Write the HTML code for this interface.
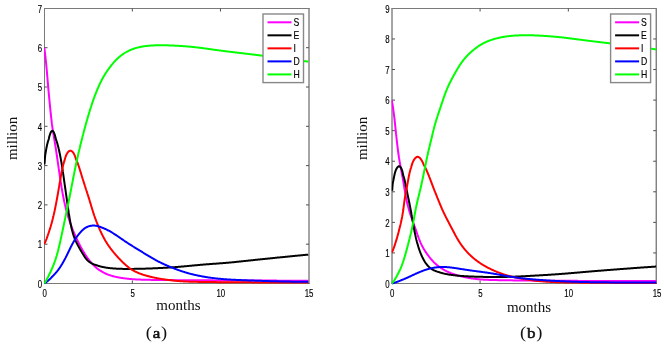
<!DOCTYPE html>
<html><head><meta charset="utf-8"><style>
html,body{margin:0;padding:0;background:#fff;}
svg{display:block;}
.tl text,text.lg{font-family:"Liberation Sans",Arial,sans-serif;font-size:10.2px;fill:#000;stroke:#000;stroke-width:0.15px;}
.lab{font-family:"Liberation Serif","Times New Roman",serif;font-size:15px;fill:#111;}
.cap{font-family:"Liberation Serif","Times New Roman",serif;font-size:16.5px;fill:#111;}
.cap .l{stroke:#111;stroke-width:0.55px;font-size:15.2px;}
</style></head><body>
<svg width="664" height="345" viewBox="0 0 664 345">
<rect width="664" height="345" fill="#fff"/>
<path d="M44.5,8L44.5,284" stroke="#7a7a7a" stroke-width="1" fill="none"/>
<path d="M44,283.5L309.5,283.5" stroke="#7a7a7a" stroke-width="1" fill="none"/>
<path d="M309.0,284L309.0,8" stroke="#4a4a4a" stroke-width="1" fill="none"/>
<path d="M309.5,8.5L44,8.5" stroke="#7a7a7a" stroke-width="1" fill="none"/>
<path d="M132.33,283.5v-3M132.33,8.5v3M220.47,283.5v-3M220.47,8.5v3M44.5,244.20h3M309.0,244.20h-3M44.5,204.90h3M309.0,204.90h-3M44.5,165.60h3M309.0,165.60h-3M44.5,126.30h3M309.0,126.30h-3M44.5,87.00h3M309.0,87.00h-3M44.5,47.70h3M309.0,47.70h-3" stroke="#505050" stroke-width="1" fill="none"/>
<clipPath id="ca"><rect x="44.00" y="7.5" width="264.80" height="277.5"/></clipPath>
<g clip-path="url(#ca)" fill="none" stroke-width="2" stroke-linejoin="round">
<path d="M44.30,47.80 L44.37,48.29 L44.44,48.79 L44.51,49.29 L44.57,49.78 L44.64,50.28 L44.70,50.77 L44.77,51.27 L44.83,51.76 L44.89,52.26 L44.95,52.76 L45.01,53.25 L45.06,53.75 L45.12,54.25 L45.18,54.74 L45.23,55.24 L45.29,55.74 L45.34,56.24 L45.40,56.73 L45.45,57.23 L45.50,57.73 L45.55,58.22 L45.61,58.72 L45.67,59.22 L45.72,59.71 L45.77,60.21 L45.83,60.71 L45.88,61.21 L45.93,61.70 L45.98,62.20 L46.04,62.70 L46.09,63.19 L46.14,63.69 L46.19,64.19 L46.24,64.69 L46.28,65.18 L46.33,65.68 L46.38,66.18 L46.43,66.68 L46.48,67.18 L46.52,67.67 L46.57,68.17 L46.61,68.67 L46.66,69.17 L46.70,69.66 L46.75,70.16 L46.79,70.66 L46.84,71.16 L46.88,71.66 L46.93,72.15 L46.97,72.65 L47.01,73.15 L47.05,73.65 L47.10,74.15 L47.14,74.65 L47.18,75.14 L47.22,75.64 L47.27,76.14 L47.31,76.64 L47.35,77.14 L47.39,77.63 L47.44,78.13 L47.48,78.63 L47.52,79.13 L47.56,79.63 L47.60,80.13 L47.65,80.62 L47.69,81.12 L47.73,81.62 L47.77,82.12 L47.82,82.62 L47.86,83.11 L47.90,83.61 L47.95,84.11 L47.99,84.61 L48.03,85.11 L48.08,85.61 L48.12,86.10 L48.16,86.60 L48.21,87.10 L48.25,87.60 L48.30,88.10 L48.34,88.59 L48.39,89.09 L48.43,89.59 L48.48,90.09 L48.52,90.59 L48.57,91.08 L48.61,91.58 L48.66,92.08 L48.70,92.58 L48.75,93.07 L48.80,93.57 L48.84,94.07 L48.89,94.57 L48.94,95.07 L48.98,95.56 L49.03,96.06 L49.08,96.56 L49.12,97.06 L49.17,97.56 L49.22,98.05 L49.27,98.55 L49.31,99.05 L49.36,99.55 L49.41,100.04 L49.46,100.54 L49.50,101.04 L49.55,101.54 L49.60,102.03 L49.65,102.53 L49.70,103.03 L49.74,103.53 L49.79,104.03 L49.84,104.52 L49.89,105.02 L49.94,105.52 L49.99,106.02 L50.03,106.51 L50.08,107.01 L50.13,107.51 L50.18,108.01 L50.23,108.50 L50.28,109.00 L50.33,109.50 L50.38,110.00 L50.43,110.49 L50.48,110.99 L50.53,111.49 L50.58,111.99 L50.63,112.48 L50.68,112.98 L50.73,113.48 L50.78,113.98 L50.84,114.47 L50.89,114.97 L50.94,115.47 L50.99,115.96 L51.05,116.46 L51.10,116.96 L51.16,117.46 L51.21,117.95 L51.27,118.45 L51.33,118.95 L51.38,119.44 L51.44,119.94 L51.50,120.44 L51.56,120.93 L51.62,121.43 L51.68,121.92 L51.74,122.42 L51.80,122.92 L51.87,123.41 L51.93,123.91 L52.00,124.40 L52.06,124.90 L52.13,125.39 L52.20,125.89 L52.26,126.38 L52.33,126.88 L52.40,127.37 L52.47,127.87 L52.55,128.36 L52.62,128.86 L52.69,129.35 L52.77,129.85 L52.84,130.34 L52.92,130.84 L52.99,131.33 L53.07,131.82 L53.15,132.32 L53.23,132.81 L53.31,133.30 L53.39,133.80 L53.47,134.29 L53.55,134.78 L53.63,135.28 L53.71,135.77 L53.79,136.26 L53.87,136.76 L53.95,137.25 L54.04,137.74 L54.12,138.24 L54.20,138.73 L54.28,139.22 L54.37,139.72 L54.45,140.21 L54.53,140.70 L54.61,141.20 L54.70,141.69 L54.78,142.18 L54.86,142.68 L54.94,143.17 L55.02,143.66 L55.10,144.16 L55.18,144.65 L55.27,145.14 L55.35,145.64 L55.42,146.13 L55.50,146.62 L55.58,147.12 L55.66,147.61 L55.74,148.10 L55.82,148.60 L55.89,149.09 L55.97,149.59 L56.05,150.08 L56.12,150.57 L56.20,151.07 L56.27,151.56 L56.35,152.06 L56.42,152.55 L56.49,153.05 L56.57,153.54 L56.64,154.04 L56.71,154.53 L56.78,155.02 L56.85,155.52 L56.93,156.01 L57.00,156.51 L57.07,157.00 L57.14,157.50 L57.21,157.99 L57.28,158.49 L57.35,158.98 L57.42,159.48 L57.49,159.97 L57.56,160.47 L57.63,160.96 L57.70,161.46 L57.77,161.95 L57.84,162.45 L57.91,162.94 L57.98,163.44 L58.05,163.93 L58.13,164.43 L58.20,164.92 L58.27,165.42 L58.34,165.91 L58.41,166.41 L58.48,166.90 L58.55,167.40 L58.62,167.89 L58.69,168.39 L58.77,168.88 L58.84,169.38 L58.91,169.87 L58.98,170.37 L59.05,170.86 L59.13,171.36 L59.20,171.85 L59.27,172.35 L59.34,172.84 L59.42,173.34 L59.49,173.83 L59.56,174.33 L59.64,174.82 L59.71,175.31 L59.78,175.81 L59.86,176.30 L59.93,176.80 L60.00,177.29 L60.08,177.79 L60.15,178.28 L60.23,178.78 L60.30,179.27 L60.38,179.76 L60.45,180.26 L60.53,180.75 L60.60,181.25 L60.68,181.74 L60.76,182.24 L60.83,182.73 L60.91,183.22 L60.99,183.72 L61.07,184.21 L61.14,184.70 L61.22,185.20 L61.30,185.69 L61.38,186.19 L61.46,186.68 L61.54,187.17 L61.62,187.67 L61.71,188.16 L61.79,188.65 L61.87,189.14 L61.96,189.64 L62.04,190.13 L62.13,190.62 L62.21,191.12 L62.30,191.61 L62.39,192.10 L62.47,192.59 L62.56,193.08 L62.65,193.58 L62.74,194.07 L62.84,194.56 L62.93,195.05 L63.02,195.54 L63.12,196.03 L63.21,196.52 L63.31,197.01 L63.40,197.50 L63.50,197.99 L63.60,198.48 L63.70,198.97 L63.80,199.46 L63.91,199.95 L64.01,200.44 L64.12,200.93 L64.22,201.42 L64.33,201.90 L64.44,202.39 L64.54,202.88 L64.65,203.37 L64.77,203.85 L64.88,204.34 L64.99,204.83 L65.11,205.31 L65.22,205.80 L65.34,206.29 L65.46,206.77 L65.58,207.26 L65.70,207.74 L65.82,208.23 L65.94,208.71 L66.06,209.20 L66.19,209.68 L66.32,210.16 L66.44,210.65 L66.57,211.13 L66.70,211.61 L66.83,212.09 L66.97,212.58 L67.10,213.06 L67.23,213.54 L67.37,214.02 L67.51,214.50 L67.65,214.98 L67.79,215.46 L67.93,215.94 L68.07,216.42 L68.22,216.89 L68.36,217.37 L68.51,217.85 L68.66,218.33 L68.81,218.80 L68.96,219.28 L69.11,219.75 L69.27,220.23 L69.42,220.70 L69.58,221.18 L69.74,221.65 L69.90,222.13 L70.06,222.60 L70.23,223.07 L70.39,223.54 L70.56,224.01 L70.72,224.48 L70.89,224.95 L71.06,225.42 L71.24,225.89 L71.41,226.36 L71.59,226.83 L71.76,227.29 L71.94,227.76 L72.12,228.23 L72.30,228.69 L72.49,229.16 L72.67,229.62 L72.86,230.08 L73.04,230.55 L73.23,231.01 L73.42,231.47 L73.62,231.93 L73.81,232.39 L74.00,232.85 L74.20,233.31 L74.40,233.77 L74.60,234.23 L74.80,234.69 L75.00,235.14 L75.20,235.60 L75.41,236.06 L75.61,236.51 L75.82,236.97 L76.03,237.42 L76.24,237.87 L76.45,238.33 L76.66,238.78 L76.87,239.23 L77.09,239.68 L77.30,240.13 L77.52,240.58 L77.74,241.03 L77.96,241.48 L78.18,241.93 L78.40,242.38 L78.62,242.82 L78.85,243.27 L79.07,243.72 L79.30,244.16 L79.53,244.61 L79.76,245.05 L79.99,245.49 L80.22,245.93 L80.45,246.38 L80.69,246.82 L80.92,247.26 L81.16,247.70 L81.40,248.13 L81.64,248.57 L81.89,249.01 L82.13,249.44 L82.37,249.88 L82.62,250.31 L82.87,250.74 L83.12,251.18 L83.37,251.61 L83.63,252.04 L83.89,252.46 L84.14,252.89 L84.41,253.31 L84.67,253.74 L84.93,254.16 L85.20,254.58 L85.47,255.00 L85.74,255.42 L86.01,255.83 L86.29,256.25 L86.57,256.66 L86.85,257.07 L87.14,257.48 L87.42,257.89 L87.71,258.29 L88.00,258.69 L88.30,259.09 L88.60,259.49 L88.90,259.89 L89.20,260.28 L89.51,260.67 L89.82,261.06 L90.13,261.44 L90.45,261.82 L90.77,262.20 L91.09,262.58 L91.42,262.95 L91.75,263.32 L92.08,263.68 L92.42,264.04 L92.76,264.40 L93.11,264.76 L93.45,265.11 L93.81,265.46 L94.16,265.80 L94.52,266.14 L94.88,266.47 L95.25,266.80 L95.62,267.13 L95.99,267.46 L96.36,267.78 L96.74,268.10 L97.13,268.41 L97.51,268.71 L97.90,269.01 L98.30,269.31 L98.70,269.59 L99.10,269.88 L99.51,270.16 L99.92,270.43 L100.33,270.70 L100.75,270.96 L101.17,271.22 L101.59,271.47 L102.02,271.72 L102.45,271.96 L102.88,272.20 L103.31,272.44 L103.74,272.67 L104.18,272.89 L104.63,273.11 L105.07,273.33 L105.52,273.53 L105.97,273.73 L106.42,273.93 L106.88,274.11 L107.34,274.29 L107.80,274.47 L108.26,274.65 L108.73,274.82 L109.19,274.99 L109.66,275.15 L110.13,275.31 L110.60,275.46 L111.07,275.61 L111.54,275.76 L112.02,275.90 L112.50,276.03 L112.97,276.17 L113.45,276.29 L113.94,276.42 L114.42,276.54 L114.90,276.65 L115.38,276.77 L115.87,276.88 L116.35,276.98 L116.84,277.09 L117.33,277.19 L117.82,277.29 L118.31,277.38 L118.80,277.47 L119.29,277.56 L119.78,277.65 L120.27,277.73 L120.76,277.81 L121.25,277.89 L121.75,277.97 L122.24,278.04 L122.73,278.11 L123.23,278.18 L123.72,278.25 L124.22,278.32 L124.71,278.38 L125.21,278.44 L125.70,278.50 L126.20,278.56 L126.69,278.62 L127.19,278.67 L127.69,278.73 L128.18,278.78 L128.68,278.83 L129.18,278.88 L129.68,278.92 L130.17,278.97 L130.67,279.01 L131.17,279.06 L131.67,279.10 L132.16,279.14 L132.66,279.18 L133.16,279.21 L133.66,279.25 L134.16,279.28 L134.66,279.32 L135.15,279.35 L135.65,279.38 L136.15,279.41 L136.65,279.44 L137.15,279.46 L137.65,279.49 L138.15,279.51 L138.65,279.54 L139.15,279.56 L139.65,279.58 L140.15,279.60 L140.64,279.62 L141.14,279.64 L141.64,279.66 L142.14,279.67 L142.64,279.69 L143.14,279.71 L143.64,279.72 L144.14,279.74 L144.64,279.75 L145.14,279.76 L145.64,279.77 L146.14,279.79 L146.64,279.80 L147.14,279.81 L147.64,279.82 L148.14,279.83 L148.64,279.84 L149.14,279.85 L149.64,279.86 L150.14,279.87 L150.64,279.87 L151.14,279.88 L151.64,279.89 L152.14,279.90 L152.64,279.91 L153.14,279.91 L153.64,279.92 L154.14,279.93 L154.64,279.93 L155.14,279.94 L155.64,279.95 L156.14,279.96 L156.64,279.96 L157.14,279.97 L157.64,279.97 L158.14,279.98 L158.64,279.99 L159.14,279.99 L159.64,280.00 L160.14,280.00 L160.64,280.01 L161.14,280.02 L161.64,280.02 L162.14,280.03 L162.64,280.03 L163.14,280.04 L163.64,280.04 L164.14,280.05 L164.64,280.05 L165.14,280.06 L165.64,280.06 L166.14,280.07 L166.64,280.07 L167.14,280.08 L167.64,280.08 L168.14,280.09 L168.64,280.09 L169.14,280.09 L169.64,280.10 L170.14,280.10 L170.64,280.11 L171.14,280.11 L171.64,280.11 L172.14,280.12 L172.64,280.12 L173.14,280.13 L173.64,280.13 L174.14,280.13 L174.64,280.14 L175.14,280.14 L175.64,280.15 L176.14,280.15 L176.64,280.15 L177.14,280.16 L177.64,280.16 L178.14,280.16 L178.64,280.17 L179.14,280.17 L179.64,280.17 L180.14,280.18 L180.64,280.18 L181.14,280.18 L181.64,280.19 L182.14,280.19 L182.64,280.19 L183.14,280.20 L183.64,280.20 L184.14,280.20 L184.64,280.21 L185.14,280.21 L185.64,280.21 L186.14,280.22 L186.64,280.22 L187.14,280.22 L187.64,280.22 L188.14,280.23 L188.64,280.23 L189.14,280.23 L189.64,280.24 L190.14,280.24 L190.64,280.24 L191.14,280.25 L191.64,280.25 L192.14,280.25 L192.64,280.26 L193.14,280.26 L193.64,280.26 L194.14,280.26 L194.64,280.27 L195.14,280.27 L195.64,280.27 L196.14,280.28 L196.64,280.28 L197.14,280.28 L197.64,280.29 L198.14,280.29 L198.64,280.29 L199.14,280.29 L199.64,280.30 L200.14,280.30 L200.64,280.30 L201.14,280.31 L201.64,280.31 L202.14,280.31 L202.64,280.32 L203.14,280.32 L203.64,280.32 L204.14,280.32 L204.64,280.33 L205.14,280.33 L205.64,280.33 L206.14,280.34 L206.64,280.34 L207.14,280.34 L207.64,280.35 L208.14,280.35 L208.64,280.35 L209.14,280.35 L209.64,280.36 L210.14,280.36 L210.64,280.36 L211.14,280.37 L211.64,280.37 L212.14,280.37 L212.64,280.37 L213.14,280.38 L213.64,280.38 L214.14,280.38 L214.64,280.38 L215.14,280.39 L215.64,280.39 L216.14,280.39 L216.64,280.40 L217.14,280.40 L217.64,280.40 L218.14,280.40 L218.64,280.41 L219.14,280.41 L219.64,280.41 L220.14,280.41 L220.64,280.42 L221.14,280.42 L221.64,280.42 L222.14,280.42 L222.64,280.42 L223.14,280.43 L223.64,280.43 L224.14,280.43 L224.64,280.43 L225.14,280.44 L225.64,280.44 L226.14,280.44 L226.64,280.44 L227.14,280.45 L227.64,280.45 L228.14,280.45 L228.64,280.45 L229.14,280.45 L229.64,280.46 L230.14,280.46 L230.64,280.46 L231.14,280.46 L231.64,280.47 L232.14,280.47 L232.64,280.47 L233.14,280.47 L233.64,280.47 L234.14,280.48 L234.64,280.48 L235.14,280.48 L235.64,280.48 L236.14,280.48 L236.64,280.49 L237.14,280.49 L237.64,280.49 L238.14,280.49 L238.64,280.49 L239.14,280.50 L239.64,280.50 L240.14,280.50 L240.64,280.50 L241.14,280.50 L241.64,280.51 L242.14,280.51 L242.64,280.51 L243.14,280.51 L243.64,280.51 L244.14,280.51 L244.64,280.52 L245.14,280.52 L245.64,280.52 L246.14,280.52 L246.64,280.52 L247.14,280.53 L247.64,280.53 L248.14,280.53 L248.64,280.53 L249.14,280.53 L249.64,280.54 L250.14,280.54 L250.64,280.54 L251.14,280.54 L251.64,280.54 L252.14,280.54 L252.64,280.55 L253.14,280.55 L253.64,280.55 L254.14,280.55 L254.64,280.55 L255.14,280.55 L255.64,280.56 L256.14,280.56 L256.64,280.56 L257.14,280.56 L257.64,280.56 L258.14,280.57 L258.64,280.57 L259.14,280.57 L259.64,280.57 L260.14,280.57 L260.64,280.57 L261.14,280.58 L261.64,280.58 L262.14,280.58 L262.64,280.58 L263.14,280.58 L263.64,280.58 L264.14,280.59 L264.64,280.59 L265.14,280.59 L265.64,280.59 L266.14,280.59 L266.64,280.59 L267.14,280.60 L267.64,280.60 L268.14,280.60 L268.64,280.60 L269.14,280.60 L269.64,280.60 L270.14,280.61 L270.64,280.61 L271.14,280.61 L271.64,280.61 L272.14,280.61 L272.64,280.61 L273.14,280.61 L273.64,280.62 L274.14,280.62 L274.64,280.62 L275.14,280.62 L275.64,280.62 L276.14,280.62 L276.64,280.62 L277.14,280.63 L277.64,280.63 L278.14,280.63 L278.64,280.63 L279.14,280.63 L279.64,280.63 L280.14,280.63 L280.64,280.64 L281.14,280.64 L281.64,280.64 L282.14,280.64 L282.64,280.64 L283.14,280.64 L283.64,280.64 L284.14,280.65 L284.64,280.65 L285.14,280.65 L285.64,280.65 L286.14,280.65 L286.64,280.65 L287.14,280.65 L287.64,280.66 L288.14,280.66 L288.64,280.66 L289.14,280.66 L289.64,280.66 L290.14,280.66 L290.64,280.66 L291.13,280.66 L291.63,280.66 L292.13,280.67 L292.63,280.67 L293.13,280.67 L293.63,280.67 L294.12,280.67 L294.62,280.67 L295.11,280.67 L295.61,280.67 L296.10,280.68 L296.59,280.68 L297.08,280.68 L297.56,280.68 L298.05,280.68 L298.55,280.68 L299.05,280.68 L299.55,280.68 L300.06,280.68 L300.56,280.69 L301.06,280.69 L301.57,280.69 L302.07,280.69 L302.57,280.69 L303.07,280.69 L303.58,280.69 L304.08,280.69 L304.58,280.69 L305.08,280.69 L305.58,280.69 L306.08,280.70 L306.58,280.70 L307.07,280.70 L307.56,280.70 L308.02,280.70 L308.33,280.70" stroke="#ff00ff"/>
<path d="M44.17,164.36 L44.44,163.79 L44.54,163.34 L44.60,162.87 L44.65,162.39 L44.69,161.90 L44.72,161.40 L44.76,160.91 L44.79,160.41 L44.82,159.91 L44.85,159.41 L44.89,158.91 L44.92,158.41 L44.96,157.91 L45.00,157.41 L45.05,156.91 L45.09,156.41 L45.14,155.91 L45.20,155.41 L45.25,154.91 L45.32,154.41 L45.40,153.94 L45.49,153.47 L45.57,153.00 L45.65,152.53 L45.74,152.05 L45.82,151.57 L45.90,151.09 L45.98,150.61 L46.06,150.13 L46.15,149.64 L46.23,149.16 L46.32,148.67 L46.41,148.19 L46.50,147.71 L46.59,147.22 L46.69,146.74 L46.79,146.26 L46.89,145.78 L47.00,145.30 L47.10,144.82 L47.21,144.35 L47.33,143.88 L47.45,143.41 L47.57,142.95 L47.69,142.49 L47.82,142.03 L47.95,141.59 L48.09,141.14 L48.23,140.71 L48.37,140.28 L48.59,139.65 L48.80,138.95 L48.90,138.39 L49.01,137.83 L49.13,137.28 L49.26,136.75 L49.40,136.23 L49.55,135.73 L49.70,135.23 L49.86,134.75 L50.03,134.27 L50.20,133.80 L50.37,133.34 L50.56,132.89 L50.75,132.45 L50.96,132.03 L51.31,131.48 L51.70,131.05 L52.13,130.83 L52.72,130.93 L53.13,131.27 L53.50,131.78 L53.71,132.17 L53.92,132.60 L54.11,133.04 L54.29,133.50 L54.46,133.96 L54.63,134.44 L54.79,134.92 L54.94,135.41 L55.09,135.90 L55.23,136.41 L55.37,136.94 L55.49,137.49 L55.61,138.05 L55.73,138.64 L55.85,139.18 L56.09,139.79 L56.32,140.42 L56.47,140.85 L56.62,141.29 L56.76,141.73 L56.90,142.18 L57.05,142.64 L57.18,143.10 L57.32,143.56 L57.45,144.03 L57.59,144.50 L57.72,144.97 L57.84,145.44 L57.97,145.92 L58.10,146.40 L58.22,146.88 L58.34,147.36 L58.46,147.84 L58.58,148.32 L58.69,148.81 L58.81,149.29 L58.92,149.78 L59.03,150.26 L59.14,150.75 L59.25,151.24 L59.36,151.72 L59.46,152.21 L59.57,152.70 L59.67,153.19 L59.77,153.68 L59.88,154.17 L59.97,154.66 L60.07,155.15 L60.17,155.64 L60.27,156.13 L60.36,156.62 L60.46,157.11 L60.55,157.60 L60.64,158.09 L60.73,158.58 L60.82,159.07 L60.91,159.56 L61.00,160.06 L61.08,160.55 L61.17,161.04 L61.25,161.53 L61.34,162.03 L61.42,162.52 L61.51,163.01 L61.59,163.51 L61.67,164.00 L61.75,164.49 L61.83,164.99 L61.91,165.48 L61.99,165.97 L62.07,166.47 L62.14,166.96 L62.22,167.45 L62.30,167.95 L62.37,168.44 L62.45,168.94 L62.53,169.43 L62.60,169.92 L62.68,170.42 L62.75,170.91 L62.82,171.41 L62.90,171.90 L62.97,172.40 L63.04,172.89 L63.12,173.39 L63.19,173.88 L63.26,174.38 L63.33,174.87 L63.41,175.37 L63.48,175.86 L63.55,176.36 L63.62,176.85 L63.69,177.34 L63.76,177.84 L63.83,178.33 L63.90,178.83 L63.97,179.32 L64.04,179.82 L64.11,180.31 L64.18,180.81 L64.25,181.30 L64.32,181.80 L64.39,182.30 L64.46,182.79 L64.53,183.29 L64.60,183.78 L64.67,184.28 L64.74,184.77 L64.81,185.27 L64.88,185.76 L64.95,186.26 L65.02,186.75 L65.09,187.25 L65.16,187.74 L65.23,188.24 L65.30,188.73 L65.37,189.23 L65.44,189.72 L65.51,190.22 L65.58,190.71 L65.65,191.21 L65.72,191.70 L65.79,192.20 L65.86,192.69 L65.93,193.19 L66.00,193.68 L66.07,194.18 L66.14,194.67 L66.21,195.17 L66.28,195.66 L66.35,196.16 L66.42,196.65 L66.49,197.15 L66.56,197.64 L66.63,198.14 L66.70,198.63 L66.77,199.13 L66.84,199.62 L66.91,200.12 L66.99,200.61 L67.06,201.11 L67.13,201.60 L67.20,202.10 L67.27,202.59 L67.34,203.09 L67.41,203.58 L67.48,204.08 L67.55,204.57 L67.62,205.07 L67.69,205.56 L67.77,206.06 L67.84,206.55 L67.91,207.05 L67.98,207.54 L68.05,208.04 L68.12,208.53 L68.20,209.03 L68.27,209.52 L68.34,210.01 L68.42,210.51 L68.49,211.00 L68.56,211.50 L68.64,211.99 L68.71,212.49 L68.79,212.98 L68.86,213.48 L68.94,213.97 L69.02,214.46 L69.10,214.96 L69.17,215.45 L69.25,215.94 L69.33,216.44 L69.41,216.93 L69.50,217.42 L69.58,217.92 L69.66,218.41 L69.75,218.90 L69.83,219.39 L69.92,219.89 L70.01,220.38 L70.09,220.87 L70.18,221.36 L70.27,221.85 L70.37,222.34 L70.46,222.84 L70.55,223.33 L70.65,223.82 L70.75,224.31 L70.85,224.80 L70.95,225.28 L71.05,225.77 L71.15,226.26 L71.26,226.75 L71.36,227.24 L71.47,227.72 L71.58,228.21 L71.70,228.70 L71.81,229.18 L71.93,229.67 L72.05,230.15 L72.17,230.63 L72.29,231.11 L72.42,231.59 L72.55,232.07 L72.69,232.55 L72.82,233.03 L72.96,233.51 L73.11,233.98 L73.25,234.46 L73.40,234.93 L73.56,235.40 L73.72,235.87 L73.88,236.34 L74.04,236.80 L74.21,237.27 L74.37,237.74 L74.53,238.21 L74.70,238.67 L74.88,239.13 L75.07,239.59 L75.27,240.05 L75.47,240.50 L75.68,240.95 L75.89,241.39 L76.12,241.84 L76.34,242.28 L76.57,242.72 L76.78,243.17 L77.01,243.61 L77.23,244.05 L77.46,244.49 L77.69,244.93 L77.92,245.37 L78.15,245.81 L78.39,246.24 L78.63,246.68 L78.87,247.12 L79.11,247.55 L79.35,247.98 L79.59,248.42 L79.84,248.85 L80.08,249.28 L80.33,249.71 L80.58,250.14 L80.83,250.57 L81.08,251.00 L81.33,251.42 L81.59,251.84 L81.84,252.27 L82.10,252.69 L82.37,253.10 L82.63,253.52 L82.90,253.93 L83.17,254.34 L83.42,254.77 L83.67,255.20 L83.92,255.63 L84.18,256.05 L84.44,256.47 L84.71,256.88 L84.99,257.29 L85.27,257.69 L85.56,258.09 L85.85,258.48 L86.16,258.86 L86.48,259.23 L86.80,259.60 L87.13,259.95 L87.47,260.30 L87.82,260.64 L88.18,260.96 L88.55,261.28 L88.93,261.59 L89.32,261.88 L89.71,262.17 L90.11,262.44 L90.52,262.70 L90.94,262.96 L91.37,263.20 L91.80,263.43 L92.23,263.64 L92.68,263.85 L93.13,264.05 L93.58,264.24 L94.04,264.42 L94.50,264.59 L94.97,264.75 L95.43,264.91 L95.91,265.06 L96.38,265.20 L96.86,265.33 L97.32,265.49 L97.79,265.65 L98.25,265.80 L98.72,265.94 L99.19,266.09 L99.67,266.22 L100.14,266.35 L100.62,266.48 L101.10,266.60 L101.58,266.72 L102.06,266.83 L102.54,266.94 L103.03,267.04 L103.51,267.14 L104.00,267.24 L104.49,267.33 L104.98,267.42 L105.47,267.50 L105.96,267.59 L106.45,267.66 L106.94,267.74 L107.43,267.81 L107.93,267.88 L108.42,267.94 L108.91,268.00 L109.41,268.06 L109.90,268.12 L110.40,268.18 L110.90,268.23 L111.39,268.28 L111.89,268.32 L112.39,268.37 L112.88,268.41 L113.38,268.45 L113.88,268.49 L114.38,268.52 L114.87,268.56 L115.37,268.59 L115.87,268.62 L116.37,268.65 L116.87,268.67 L117.37,268.70 L117.86,268.72 L118.36,268.74 L118.86,268.76 L119.36,268.78 L119.86,268.80 L120.36,268.82 L120.86,268.83 L121.36,268.84 L121.86,268.86 L122.36,268.87 L122.86,268.88 L123.36,268.89 L123.86,268.89 L124.36,268.90 L124.86,268.91 L125.36,268.91 L125.86,268.91 L126.36,268.92 L126.86,268.92 L127.36,268.92 L127.86,268.92 L128.36,268.92 L128.86,268.92 L129.36,268.92 L129.86,268.91 L130.36,268.91 L130.86,268.91 L131.36,268.90 L131.85,268.90 L132.35,268.89 L132.85,268.89 L133.35,268.88 L133.85,268.88 L134.35,268.87 L134.85,268.86 L135.35,268.86 L135.85,268.85 L136.35,268.84 L136.85,268.83 L137.35,268.82 L137.85,268.81 L138.35,268.80 L138.85,268.79 L139.35,268.78 L139.85,268.77 L140.35,268.76 L140.85,268.75 L141.35,268.74 L141.85,268.73 L142.35,268.71 L142.85,268.70 L143.35,268.69 L143.85,268.67 L144.35,268.66 L144.85,268.65 L145.35,268.63 L145.85,268.62 L146.35,268.60 L146.85,268.59 L147.35,268.57 L147.85,268.55 L148.35,268.54 L148.85,268.52 L149.35,268.50 L149.85,268.48 L150.35,268.46 L150.85,268.45 L151.35,268.43 L151.85,268.41 L152.35,268.39 L152.85,268.37 L153.35,268.35 L153.85,268.33 L154.34,268.30 L154.84,268.28 L155.34,268.26 L155.84,268.24 L156.34,268.22 L156.84,268.19 L157.34,268.17 L157.84,268.15 L158.34,268.12 L158.84,268.10 L159.34,268.07 L159.84,268.05 L160.34,268.02 L160.84,268.00 L161.34,267.97 L161.84,267.95 L162.34,267.92 L162.83,267.89 L163.33,267.87 L163.83,267.84 L164.33,267.81 L164.83,267.78 L165.33,267.75 L165.83,267.73 L166.33,267.70 L166.83,267.67 L167.33,267.64 L167.83,267.61 L168.33,267.58 L168.82,267.55 L169.32,267.52 L169.82,267.48 L170.32,267.45 L170.82,267.42 L171.32,267.39 L171.82,267.35 L172.32,267.32 L172.82,267.29 L173.31,267.25 L173.81,267.22 L174.31,267.18 L174.81,267.14 L175.31,267.11 L175.81,267.07 L176.31,267.03 L176.80,266.99 L177.30,266.95 L177.80,266.91 L178.30,266.87 L178.80,266.83 L179.30,266.79 L179.79,266.75 L180.29,266.71 L180.79,266.67 L181.29,266.62 L181.79,266.58 L182.28,266.53 L182.78,266.49 L183.28,266.45 L183.78,266.40 L184.28,266.35 L184.77,266.31 L185.27,266.26 L185.77,266.22 L186.27,266.17 L186.76,266.12 L187.26,266.07 L187.76,266.03 L188.26,265.98 L188.76,265.93 L189.25,265.88 L189.75,265.84 L190.25,265.79 L190.75,265.74 L191.24,265.69 L191.74,265.64 L192.24,265.60 L192.74,265.55 L193.23,265.50 L193.73,265.45 L194.23,265.41 L194.73,265.36 L195.23,265.31 L195.72,265.26 L196.22,265.22 L196.72,265.17 L197.22,265.13 L197.71,265.08 L198.21,265.03 L198.71,264.99 L199.21,264.94 L199.71,264.90 L200.20,264.86 L200.70,264.81 L201.20,264.77 L201.70,264.73 L202.20,264.68 L202.70,264.64 L203.19,264.60 L203.69,264.56 L204.19,264.52 L204.69,264.48 L205.19,264.44 L205.69,264.40 L206.18,264.36 L206.68,264.32 L207.18,264.28 L207.68,264.24 L208.18,264.20 L208.68,264.17 L209.17,264.13 L209.67,264.09 L210.17,264.06 L210.67,264.02 L211.17,263.98 L211.67,263.95 L212.17,263.91 L212.67,263.87 L213.16,263.84 L213.66,263.80 L214.16,263.77 L214.66,263.73 L215.16,263.70 L215.66,263.66 L216.16,263.63 L216.66,263.59 L217.15,263.55 L217.65,263.52 L218.15,263.48 L218.65,263.45 L219.15,263.41 L219.65,263.37 L220.15,263.34 L220.64,263.30 L221.14,263.26 L221.64,263.22 L222.14,263.19 L222.64,263.15 L223.14,263.11 L223.64,263.07 L224.13,263.03 L224.63,262.99 L225.13,262.95 L225.63,262.91 L226.13,262.87 L226.62,262.82 L227.12,262.78 L227.62,262.74 L228.12,262.69 L228.62,262.65 L229.11,262.60 L229.61,262.56 L230.11,262.51 L230.61,262.47 L231.11,262.42 L231.60,262.37 L232.10,262.32 L232.60,262.27 L233.10,262.23 L233.59,262.18 L234.09,262.13 L234.59,262.08 L235.09,262.02 L235.58,261.97 L236.08,261.92 L236.58,261.87 L237.08,261.82 L237.57,261.77 L238.07,261.71 L238.57,261.66 L239.06,261.61 L239.56,261.56 L240.06,261.50 L240.56,261.45 L241.05,261.40 L241.55,261.34 L242.05,261.29 L242.54,261.24 L243.04,261.19 L243.54,261.13 L244.04,261.08 L244.53,261.03 L245.03,260.97 L245.53,260.92 L246.02,260.87 L246.52,260.81 L247.02,260.76 L247.52,260.71 L248.01,260.66 L248.51,260.60 L249.01,260.55 L249.50,260.50 L250.00,260.45 L250.50,260.39 L251.00,260.34 L251.49,260.29 L251.99,260.24 L252.49,260.18 L252.99,260.13 L253.48,260.08 L253.98,260.03 L254.48,259.98 L254.97,259.92 L255.47,259.87 L255.97,259.82 L256.47,259.77 L256.96,259.72 L257.46,259.66 L257.96,259.61 L258.46,259.56 L258.95,259.51 L259.45,259.46 L259.95,259.41 L260.45,259.35 L260.94,259.30 L261.44,259.25 L261.94,259.20 L262.43,259.15 L262.93,259.10 L263.43,259.04 L263.93,258.99 L264.42,258.94 L264.92,258.89 L265.42,258.84 L265.92,258.79 L266.41,258.74 L266.91,258.69 L267.41,258.64 L267.91,258.58 L268.40,258.53 L268.90,258.48 L269.40,258.43 L269.90,258.38 L270.39,258.33 L270.89,258.28 L271.39,258.23 L271.88,258.18 L272.38,258.13 L272.88,258.08 L273.38,258.03 L273.87,257.98 L274.37,257.93 L274.87,257.87 L275.37,257.82 L275.86,257.77 L276.36,257.72 L276.86,257.67 L277.36,257.62 L277.85,257.57 L278.35,257.52 L278.85,257.47 L279.35,257.42 L279.84,257.37 L280.34,257.32 L280.84,257.27 L281.34,257.23 L281.83,257.18 L282.33,257.13 L282.83,257.08 L283.33,257.03 L283.82,256.98 L284.32,256.93 L284.82,256.88 L285.32,256.83 L285.82,256.78 L286.31,256.73 L286.81,256.68 L287.31,256.63 L287.81,256.58 L288.30,256.54 L288.80,256.49 L289.30,256.44 L289.80,256.39 L290.29,256.34 L290.79,256.29 L291.29,256.24 L291.78,256.20 L292.28,256.15 L292.77,256.10 L293.27,256.05 L293.76,256.00 L294.25,255.96 L294.74,255.91 L295.23,255.86 L295.72,255.81 L296.20,255.77 L296.69,255.72 L297.17,255.68 L297.64,255.63 L298.12,255.58 L298.62,255.54 L299.12,255.49 L299.62,255.44 L300.13,255.39 L300.63,255.34 L301.13,255.29 L301.63,255.25 L302.14,255.20 L302.64,255.15 L303.14,255.10 L303.64,255.06 L304.14,255.01 L304.64,254.96 L305.14,254.91 L305.64,254.87 L306.14,254.82 L306.63,254.77 L307.12,254.73 L307.59,254.68 L308.23,254.63 L308.26,254.62" stroke="#000000"/>
<path d="M44.29,243.80 L44.54,243.36 L44.77,242.92 L45.00,242.47 L45.22,242.02 L45.42,241.57 L45.63,241.11 L45.82,240.65 L46.01,240.19 L46.20,239.73 L46.38,239.26 L46.56,238.80 L46.73,238.33 L46.90,237.86 L47.07,237.39 L47.24,236.92 L47.40,236.45 L47.56,235.97 L47.72,235.50 L47.87,235.02 L48.03,234.55 L48.19,234.07 L48.36,233.61 L48.52,233.14 L48.69,232.67 L48.85,232.19 L49.01,231.72 L49.17,231.25 L49.33,230.78 L49.49,230.30 L49.64,229.83 L49.79,229.35 L49.94,228.88 L50.09,228.40 L50.24,227.92 L50.38,227.44 L50.53,226.97 L50.67,226.49 L50.81,226.01 L50.95,225.53 L51.09,225.05 L51.23,224.57 L51.36,224.09 L51.50,223.61 L51.63,223.12 L51.76,222.64 L51.89,222.16 L52.02,221.68 L52.15,221.19 L52.28,220.71 L52.40,220.23 L52.53,219.74 L52.65,219.26 L52.77,218.77 L52.90,218.29 L53.02,217.80 L53.13,217.32 L53.25,216.83 L53.37,216.35 L53.48,215.86 L53.60,215.38 L53.71,214.89 L53.82,214.40 L53.93,213.91 L54.04,213.43 L54.15,212.94 L54.26,212.45 L54.37,211.96 L54.47,211.47 L54.58,210.99 L54.68,210.50 L54.79,210.01 L54.89,209.52 L54.99,209.03 L55.09,208.54 L55.19,208.05 L55.29,207.56 L55.39,207.07 L55.49,206.58 L55.59,206.09 L55.68,205.60 L55.78,205.11 L55.88,204.62 L55.97,204.13 L56.07,203.64 L56.16,203.15 L56.25,202.65 L56.35,202.16 L56.44,201.67 L56.53,201.18 L56.62,200.69 L56.72,200.20 L56.81,199.71 L56.90,199.21 L56.99,198.72 L57.08,198.23 L57.16,197.74 L57.25,197.25 L57.34,196.75 L57.43,196.26 L57.52,195.77 L57.60,195.28 L57.69,194.79 L57.78,194.29 L57.86,193.80 L57.95,193.31 L58.03,192.81 L58.12,192.32 L58.20,191.83 L58.29,191.34 L58.37,190.84 L58.45,190.35 L58.54,189.86 L58.62,189.36 L58.70,188.87 L58.79,188.38 L58.87,187.89 L58.95,187.39 L59.03,186.90 L59.12,186.41 L59.20,185.91 L59.28,185.42 L59.36,184.93 L59.45,184.43 L59.53,183.94 L59.61,183.45 L59.70,182.95 L59.78,182.46 L59.86,181.97 L59.95,181.48 L60.03,180.98 L60.11,180.49 L60.20,180.00 L60.28,179.50 L60.37,179.01 L60.45,178.52 L60.54,178.03 L60.62,177.53 L60.71,177.04 L60.80,176.55 L60.89,176.06 L60.98,175.57 L61.06,175.07 L61.15,174.58 L61.24,174.09 L61.34,173.60 L61.43,173.11 L61.52,172.62 L61.61,172.13 L61.71,171.64 L61.80,171.15 L61.90,170.66 L62.00,170.17 L62.10,169.68 L62.20,169.19 L62.31,168.70 L62.41,168.22 L62.52,167.73 L62.63,167.25 L62.74,166.76 L62.85,166.28 L62.97,165.80 L63.09,165.32 L63.21,164.85 L63.33,164.37 L63.46,163.90 L63.60,163.43 L63.73,162.96 L63.87,162.50 L64.02,162.04 L64.17,161.59 L64.32,161.14 L64.48,160.69 L64.60,160.20 L64.72,159.71 L64.85,159.22 L64.99,158.74 L65.13,158.25 L65.27,157.77 L65.42,157.30 L65.58,156.82 L65.74,156.35 L65.92,155.88 L66.10,155.42 L66.30,154.96 L66.51,154.51 L66.73,154.07 L66.96,153.64 L67.21,153.22 L67.47,152.81 L67.75,152.42 L68.04,152.06 L68.35,151.72 L68.85,151.27 L69.38,150.94 L69.94,150.74 L70.52,150.70 L71.09,150.83 L71.65,151.10 L72.18,151.49 L72.51,151.81 L72.82,152.15 L73.12,152.52 L73.40,152.91 L73.66,153.32 L73.90,153.74 L74.13,154.17 L74.35,154.62 L74.55,155.07 L74.75,155.53 L74.94,156.00 L75.11,156.48 L75.28,156.97 L75.45,157.46 L75.61,157.96 L75.76,158.47 L75.90,158.99 L76.09,159.44 L76.29,159.85 L76.48,160.28 L76.67,160.71 L76.86,161.15 L77.04,161.59 L77.22,162.04 L77.40,162.49 L77.57,162.94 L77.74,163.40 L77.91,163.86 L78.08,164.32 L78.24,164.79 L78.40,165.25 L78.57,165.72 L78.72,166.19 L78.88,166.66 L79.04,167.14 L79.19,167.61 L79.35,168.08 L79.50,168.56 L79.65,169.03 L79.80,169.51 L79.95,169.98 L80.10,170.46 L80.25,170.94 L80.40,171.41 L80.55,171.89 L80.70,172.37 L80.85,172.85 L80.99,173.32 L81.14,173.80 L81.29,174.28 L81.44,174.76 L81.58,175.23 L81.73,175.71 L81.88,176.19 L82.03,176.67 L82.17,177.15 L82.32,177.62 L82.47,178.10 L82.62,178.58 L82.76,179.06 L82.91,179.53 L83.06,180.01 L83.21,180.49 L83.36,180.97 L83.51,181.44 L83.66,181.92 L83.81,182.40 L83.96,182.87 L84.11,183.35 L84.26,183.83 L84.41,184.30 L84.56,184.78 L84.72,185.26 L84.87,185.73 L85.02,186.21 L85.18,186.68 L85.33,187.16 L85.48,187.63 L85.64,188.11 L85.79,188.59 L85.95,189.06 L86.10,189.54 L86.26,190.01 L86.41,190.49 L86.57,190.96 L86.72,191.44 L86.88,191.91 L87.03,192.39 L87.19,192.86 L87.34,193.34 L87.50,193.81 L87.65,194.29 L87.80,194.76 L87.96,195.24 L88.11,195.72 L88.26,196.19 L88.41,196.67 L88.56,197.14 L88.71,197.62 L88.86,198.10 L89.01,198.58 L89.16,199.05 L89.31,199.53 L89.45,200.01 L89.60,200.49 L89.74,200.96 L89.89,201.44 L90.03,201.92 L90.18,202.40 L90.32,202.88 L90.46,203.36 L90.60,203.84 L90.75,204.32 L90.89,204.80 L91.03,205.27 L91.17,205.75 L91.31,206.23 L91.46,206.71 L91.60,207.19 L91.74,207.67 L91.89,208.15 L92.03,208.63 L92.18,209.10 L92.32,209.58 L92.47,210.06 L92.62,210.54 L92.77,211.01 L92.92,211.49 L93.07,211.96 L93.22,212.44 L93.38,212.92 L93.53,213.39 L93.69,213.86 L93.85,214.34 L94.01,214.81 L94.17,215.28 L94.33,215.76 L94.50,216.23 L94.66,216.70 L94.83,217.17 L95.00,217.64 L95.17,218.11 L95.34,218.58 L95.52,219.05 L95.69,219.51 L95.87,219.98 L96.04,220.45 L96.22,220.91 L96.40,221.38 L96.58,221.85 L96.77,222.31 L96.95,222.78 L97.13,223.24 L97.32,223.70 L97.51,224.17 L97.70,224.63 L97.89,225.09 L98.08,225.55 L98.27,226.02 L98.46,226.48 L98.65,226.94 L98.85,227.40 L99.05,227.86 L99.24,228.32 L99.44,228.77 L99.64,229.23 L99.84,229.69 L100.05,230.14 L100.25,230.60 L100.45,231.06 L100.66,231.51 L100.87,231.96 L101.08,232.42 L101.29,232.87 L101.51,233.32 L101.72,233.77 L101.94,234.22 L102.16,234.67 L102.38,235.11 L102.60,235.56 L102.83,236.00 L103.06,236.45 L103.29,236.89 L103.52,237.33 L103.75,237.77 L103.99,238.21 L104.23,238.65 L104.47,239.08 L104.72,239.51 L104.96,239.95 L105.21,240.38 L105.47,240.81 L105.72,241.24 L105.98,241.66 L106.24,242.09 L106.50,242.51 L106.77,242.93 L107.04,243.35 L107.31,243.77 L107.58,244.19 L107.86,244.60 L108.13,245.01 L108.41,245.43 L108.70,245.84 L108.98,246.25 L109.27,246.65 L109.56,247.06 L109.85,247.46 L110.15,247.86 L110.44,248.27 L110.74,248.66 L111.04,249.06 L111.34,249.46 L111.65,249.85 L111.96,250.25 L112.26,250.64 L112.57,251.03 L112.89,251.42 L113.20,251.81 L113.52,252.19 L113.83,252.58 L114.15,252.96 L114.47,253.34 L114.80,253.72 L115.12,254.10 L115.45,254.48 L115.77,254.86 L116.10,255.23 L116.43,255.61 L116.76,255.98 L117.10,256.35 L117.43,256.72 L117.77,257.09 L118.11,257.46 L118.44,257.83 L118.78,258.19 L119.13,258.56 L119.47,258.92 L119.81,259.28 L120.16,259.64 L120.50,260.00 L120.85,260.36 L121.20,260.71 L121.55,261.07 L121.91,261.42 L122.26,261.77 L122.62,262.12 L122.97,262.47 L123.33,262.81 L123.69,263.15 L124.06,263.49 L124.42,263.83 L124.79,264.17 L125.16,264.50 L125.53,264.83 L125.90,265.15 L126.28,265.48 L126.66,265.80 L127.04,266.11 L127.42,266.43 L127.81,266.73 L128.20,267.04 L128.57,267.36 L128.96,267.68 L129.35,267.98 L129.74,268.28 L130.14,268.57 L130.54,268.86 L130.95,269.13 L131.36,269.40 L131.78,269.66 L132.21,269.92 L132.63,270.16 L133.07,270.40 L133.50,270.64 L133.94,270.86 L134.38,271.08 L134.83,271.30 L135.27,271.52 L135.71,271.74 L136.16,271.95 L136.61,272.16 L137.06,272.37 L137.51,272.57 L137.96,272.77 L138.42,272.96 L138.88,273.15 L139.34,273.33 L139.80,273.51 L140.26,273.69 L140.73,273.86 L141.19,274.03 L141.66,274.20 L142.13,274.36 L142.60,274.52 L143.07,274.68 L143.55,274.83 L144.02,274.98 L144.50,275.13 L144.97,275.27 L145.45,275.42 L145.93,275.55 L146.41,275.69 L146.89,275.83 L147.37,275.96 L147.85,276.09 L148.33,276.21 L148.82,276.34 L149.30,276.46 L149.79,276.58 L150.27,276.70 L150.76,276.82 L151.24,276.93 L151.73,277.04 L152.21,277.16 L152.70,277.26 L153.19,277.37 L153.68,277.48 L154.17,277.58 L154.65,277.68 L155.14,277.79 L155.63,277.88 L156.12,277.98 L156.61,278.08 L157.10,278.17 L157.59,278.27 L158.09,278.36 L158.58,278.45 L159.07,278.54 L159.56,278.63 L160.05,278.71 L160.54,278.80 L161.04,278.88 L161.53,278.96 L162.02,279.04 L162.52,279.12 L163.01,279.20 L163.50,279.28 L164.00,279.35 L164.49,279.43 L164.99,279.50 L165.48,279.57 L165.97,279.64 L166.47,279.71 L166.96,279.78 L167.46,279.85 L167.96,279.91 L168.45,279.98 L168.95,280.04 L169.44,280.10 L169.94,280.16 L170.43,280.22 L170.93,280.28 L171.43,280.34 L171.92,280.40 L172.42,280.45 L172.92,280.50 L173.41,280.56 L173.91,280.61 L174.41,280.66 L174.91,280.71 L175.40,280.76 L175.90,280.80 L176.40,280.85 L176.90,280.90 L177.39,280.94 L177.89,280.98 L178.39,281.02 L178.89,281.06 L179.39,281.10 L179.88,281.14 L180.38,281.18 L180.88,281.21 L181.38,281.25 L181.88,281.28 L182.38,281.31 L182.88,281.35 L183.37,281.38 L183.87,281.41 L184.37,281.43 L184.87,281.46 L185.37,281.49 L185.87,281.51 L186.37,281.54 L186.87,281.56 L187.37,281.58 L187.87,281.60 L188.37,281.62 L188.87,281.64 L189.36,281.66 L189.86,281.68 L190.36,281.69 L190.86,281.71 L191.36,281.73 L191.86,281.74 L192.36,281.75 L192.86,281.77 L193.36,281.78 L193.86,281.79 L194.36,281.81 L194.86,281.82 L195.36,281.83 L195.86,281.84 L196.36,281.85 L196.86,281.86 L197.36,281.87 L197.86,281.88 L198.36,281.89 L198.86,281.90 L199.36,281.91 L199.86,281.92 L200.36,281.92 L200.86,281.93 L201.36,281.94 L201.86,281.95 L202.36,281.96 L202.86,281.96 L203.36,281.97 L203.86,281.98 L204.36,281.99 L204.86,281.99 L205.36,282.00 L205.86,282.01 L206.36,282.01 L206.86,282.02 L207.36,282.03 L207.86,282.03 L208.36,282.04 L208.86,282.04 L209.36,282.05 L209.86,282.06 L210.36,282.06 L210.86,282.07 L211.36,282.07 L211.86,282.08 L212.36,282.08 L212.86,282.09 L213.36,282.09 L213.86,282.10 L214.36,282.10 L214.86,282.11 L215.36,282.11 L215.86,282.12 L216.36,282.12 L216.86,282.13 L217.36,282.13 L217.86,282.14 L218.36,282.14 L218.86,282.15 L219.36,282.15 L219.86,282.16 L220.36,282.16 L220.86,282.16 L221.36,282.17 L221.86,282.17 L222.36,282.18 L222.86,282.18 L223.36,282.18 L223.86,282.19 L224.36,282.19 L224.86,282.20 L225.36,282.20 L225.86,282.20 L226.36,282.21 L226.86,282.21 L227.36,282.21 L227.86,282.22 L228.36,282.22 L228.86,282.23 L229.36,282.23 L229.86,282.23 L230.36,282.24 L230.86,282.24 L231.36,282.24 L231.86,282.25 L232.36,282.25 L232.86,282.25 L233.36,282.26 L233.86,282.26 L234.36,282.26 L234.86,282.27 L235.36,282.27 L235.86,282.27 L236.36,282.28 L236.86,282.28 L237.36,282.28 L237.86,282.29 L238.36,282.29 L238.86,282.29 L239.36,282.30 L239.86,282.30 L240.36,282.30 L240.86,282.31 L241.36,282.31 L241.86,282.31 L242.36,282.32 L242.86,282.32 L243.36,282.32 L243.86,282.32 L244.36,282.33 L244.86,282.33 L245.36,282.33 L245.86,282.34 L246.36,282.34 L246.86,282.34 L247.36,282.35 L247.86,282.35 L248.36,282.35 L248.86,282.36 L249.36,282.36 L249.86,282.36 L250.36,282.37 L250.86,282.37 L251.36,282.37 L251.86,282.37 L252.36,282.38 L252.86,282.38 L253.36,282.38 L253.86,282.39 L254.36,282.39 L254.86,282.39 L255.36,282.40 L255.86,282.40 L256.36,282.40 L256.86,282.41 L257.36,282.41 L257.86,282.41 L258.36,282.41 L258.86,282.42 L259.36,282.42 L259.86,282.42 L260.36,282.43 L260.86,282.43 L261.36,282.43 L261.86,282.43 L262.36,282.44 L262.86,282.44 L263.36,282.44 L263.86,282.45 L264.36,282.45 L264.86,282.45 L265.36,282.45 L265.86,282.46 L266.36,282.46 L266.86,282.46 L267.36,282.47 L267.86,282.47 L268.36,282.47 L268.86,282.47 L269.36,282.48 L269.86,282.48 L270.36,282.48 L270.86,282.48 L271.36,282.49 L271.86,282.49 L272.36,282.49 L272.86,282.49 L273.36,282.50 L273.86,282.50 L274.36,282.50 L274.86,282.50 L275.36,282.51 L275.86,282.51 L276.36,282.51 L276.86,282.51 L277.36,282.51 L277.86,282.52 L278.36,282.52 L278.86,282.52 L279.36,282.52 L279.86,282.53 L280.36,282.53 L280.86,282.53 L281.36,282.53 L281.86,282.53 L282.36,282.54 L282.86,282.54 L283.36,282.54 L283.86,282.54 L284.36,282.54 L284.86,282.55 L285.36,282.55 L285.86,282.55 L286.36,282.55 L286.86,282.55 L287.36,282.55 L287.86,282.56 L288.36,282.56 L288.86,282.56 L289.36,282.56 L289.86,282.56 L290.36,282.56 L290.86,282.57 L291.36,282.57 L291.85,282.57 L292.35,282.57 L292.85,282.57 L293.35,282.57 L293.85,282.57 L294.34,282.58 L294.84,282.58 L295.34,282.58 L295.83,282.58 L296.32,282.58 L296.82,282.58 L297.31,282.58 L297.79,282.58 L298.29,282.58 L298.79,282.59 L299.29,282.59 L299.79,282.59 L300.30,282.59 L300.80,282.59 L301.30,282.59 L301.80,282.59 L302.31,282.59 L302.81,282.59 L303.31,282.59 L303.81,282.60 L304.31,282.60 L304.81,282.60 L305.31,282.60 L305.81,282.60 L306.31,282.60 L306.81,282.60 L307.30,282.60 L307.78,282.60 L308.24,282.60 L308.37,282.60" stroke="#ff0000"/>
<path d="M44.30,283.50 L44.72,283.23 L45.14,282.95 L45.55,282.67 L45.95,282.38 L46.35,282.08 L46.75,281.78 L47.14,281.47 L47.53,281.15 L47.91,280.83 L48.29,280.51 L48.67,280.18 L49.04,279.85 L49.41,279.51 L49.77,279.17 L50.13,278.82 L50.49,278.48 L50.84,278.12 L51.19,277.77 L51.53,277.40 L51.87,277.04 L52.21,276.68 L52.57,276.33 L52.92,275.98 L53.27,275.63 L53.61,275.28 L53.96,274.92 L54.30,274.56 L54.63,274.19 L54.97,273.82 L55.30,273.45 L55.62,273.08 L55.95,272.70 L56.27,272.32 L56.58,271.94 L56.90,271.56 L57.21,271.17 L57.51,270.78 L57.82,270.39 L58.12,269.99 L58.41,269.59 L58.71,269.19 L59.00,268.79 L59.29,268.39 L59.57,267.98 L59.85,267.57 L60.13,267.16 L60.40,266.74 L60.67,266.32 L60.94,265.91 L61.21,265.49 L61.47,265.06 L61.73,264.64 L61.99,264.21 L62.25,263.79 L62.50,263.36 L62.75,262.93 L63.00,262.49 L63.25,262.06 L63.49,261.63 L63.73,261.19 L63.97,260.75 L64.21,260.32 L64.45,259.88 L64.68,259.44 L64.91,258.99 L65.15,258.55 L65.38,258.11 L65.60,257.66 L65.83,257.22 L66.06,256.77 L66.28,256.33 L66.50,255.88 L66.73,255.43 L66.95,254.99 L67.17,254.54 L67.39,254.09 L67.61,253.64 L67.83,253.19 L68.05,252.74 L68.26,252.29 L68.48,251.84 L68.70,251.39 L68.92,250.94 L69.13,250.49 L69.35,250.04 L69.57,249.59 L69.79,249.15 L70.01,248.70 L70.23,248.25 L70.45,247.80 L70.67,247.35 L70.89,246.91 L71.11,246.46 L71.34,246.02 L71.57,245.57 L71.80,245.13 L72.03,244.69 L72.26,244.25 L72.49,243.81 L72.73,243.37 L72.97,242.93 L73.21,242.50 L73.45,242.06 L73.70,241.63 L73.95,241.20 L74.20,240.77 L74.46,240.35 L74.72,239.93 L74.98,239.51 L75.25,239.09 L75.52,238.67 L75.79,238.26 L76.07,237.85 L76.35,237.44 L76.64,237.04 L76.92,236.64 L77.22,236.25 L77.51,235.85 L77.82,235.47 L78.12,235.08 L78.43,234.70 L78.74,234.32 L79.05,233.94 L79.36,233.56 L79.67,233.18 L79.99,232.80 L80.31,232.43 L80.64,232.06 L80.97,231.70 L81.30,231.34 L81.64,230.98 L81.99,230.63 L82.34,230.29 L82.69,229.96 L83.06,229.63 L83.43,229.31 L83.81,229.00 L84.19,228.70 L84.58,228.41 L84.98,228.14 L85.39,227.88 L85.81,227.63 L86.23,227.39 L86.66,227.17 L87.10,226.96 L87.54,226.77 L87.99,226.59 L88.44,226.42 L88.90,226.27 L89.36,226.14 L89.83,226.01 L90.30,225.91 L90.77,225.81 L91.25,225.73 L91.72,225.67 L92.20,225.62 L92.69,225.58 L93.17,225.56 L93.65,225.56 L94.14,225.57 L94.62,225.60 L95.10,225.64 L95.58,225.70 L96.07,225.77 L96.55,225.85 L97.02,225.95 L97.50,226.06 L97.98,226.18 L98.45,226.32 L98.92,226.46 L99.38,226.61 L99.85,226.77 L100.31,226.94 L100.77,227.11 L101.23,227.29 L101.69,227.47 L102.15,227.65 L102.60,227.84 L103.06,228.03 L103.51,228.21 L103.97,228.39 L104.42,228.58 L104.87,228.77 L105.32,228.97 L105.77,229.18 L106.22,229.39 L106.66,229.60 L107.11,229.82 L107.55,230.04 L107.99,230.27 L108.42,230.50 L108.86,230.74 L109.30,230.98 L109.73,231.22 L110.16,231.46 L110.59,231.71 L111.02,231.96 L111.45,232.22 L111.88,232.47 L112.30,232.73 L112.73,232.99 L113.15,233.26 L113.57,233.52 L113.99,233.79 L114.41,234.06 L114.83,234.33 L115.25,234.60 L115.67,234.88 L116.08,235.15 L116.50,235.43 L116.91,235.71 L117.33,235.98 L117.74,236.26 L118.16,236.55 L118.57,236.83 L118.98,237.11 L119.39,237.39 L119.80,237.67 L120.22,237.96 L120.63,238.24 L121.04,238.52 L121.45,238.81 L121.86,239.09 L122.27,239.38 L122.68,239.66 L123.10,239.94 L123.51,240.22 L123.92,240.50 L124.33,240.79 L124.75,241.07 L125.16,241.35 L125.58,241.62 L125.99,241.90 L126.41,242.18 L126.82,242.46 L127.24,242.73 L127.66,243.01 L128.08,243.28 L128.50,243.55 L128.92,243.82 L129.34,244.09 L129.76,244.36 L130.18,244.63 L130.60,244.90 L131.02,245.16 L131.45,245.43 L131.87,245.69 L132.29,245.96 L132.72,246.22 L133.14,246.49 L133.57,246.75 L133.99,247.01 L134.42,247.27 L134.84,247.53 L135.27,247.80 L135.70,248.06 L136.12,248.32 L136.55,248.58 L136.98,248.84 L137.40,249.10 L137.83,249.36 L138.25,249.62 L138.68,249.88 L139.11,250.14 L139.53,250.41 L139.96,250.67 L140.38,250.93 L140.81,251.19 L141.24,251.45 L141.66,251.72 L142.09,251.98 L142.51,252.24 L142.94,252.51 L143.36,252.77 L143.79,253.03 L144.21,253.30 L144.64,253.56 L145.06,253.82 L145.49,254.08 L145.91,254.35 L146.34,254.61 L146.76,254.87 L147.19,255.13 L147.62,255.39 L148.04,255.65 L148.47,255.91 L148.90,256.17 L149.32,256.43 L149.75,256.69 L150.18,256.94 L150.61,257.20 L151.04,257.45 L151.47,257.71 L151.90,257.96 L152.34,258.21 L152.77,258.46 L153.20,258.70 L153.64,258.95 L154.07,259.19 L154.51,259.44 L154.95,259.68 L155.38,259.92 L155.82,260.15 L156.26,260.39 L156.70,260.62 L157.15,260.86 L157.59,261.09 L158.03,261.32 L158.48,261.54 L158.92,261.77 L159.37,261.99 L159.81,262.22 L160.26,262.44 L160.71,262.66 L161.16,262.88 L161.61,263.09 L162.06,263.31 L162.51,263.52 L162.96,263.73 L163.42,263.94 L163.87,264.15 L164.33,264.36 L164.78,264.56 L165.24,264.77 L165.69,264.97 L166.15,265.17 L166.61,265.37 L167.07,265.57 L167.52,265.77 L167.98,265.97 L168.44,266.16 L168.90,266.36 L169.36,266.55 L169.83,266.74 L170.29,266.93 L170.75,267.12 L171.21,267.31 L171.68,267.50 L172.14,267.69 L172.60,267.87 L173.07,268.06 L173.53,268.24 L174.00,268.42 L174.46,268.60 L174.93,268.78 L175.40,268.96 L175.87,269.13 L176.33,269.31 L176.80,269.48 L177.27,269.66 L177.74,269.83 L178.21,270.00 L178.68,270.17 L179.15,270.34 L179.62,270.50 L180.09,270.67 L180.56,270.83 L181.04,270.99 L181.51,271.15 L181.98,271.31 L182.46,271.46 L182.93,271.62 L183.41,271.77 L183.88,271.92 L184.36,272.07 L184.84,272.22 L185.32,272.37 L185.79,272.51 L186.27,272.65 L186.75,272.79 L187.23,272.93 L187.71,273.07 L188.19,273.20 L188.67,273.34 L189.15,273.47 L189.64,273.60 L190.12,273.73 L190.60,273.85 L191.09,273.98 L191.57,274.10 L192.05,274.22 L192.54,274.34 L193.02,274.46 L193.51,274.58 L194.00,274.69 L194.48,274.81 L194.97,274.92 L195.46,275.03 L195.94,275.14 L196.43,275.24 L196.92,275.35 L197.41,275.45 L197.90,275.56 L198.39,275.66 L198.88,275.76 L199.37,275.85 L199.86,275.95 L200.35,276.05 L200.84,276.14 L201.33,276.23 L201.82,276.32 L202.31,276.41 L202.80,276.50 L203.29,276.59 L203.79,276.68 L204.28,276.76 L204.77,276.84 L205.26,276.93 L205.76,277.01 L206.25,277.09 L206.74,277.16 L207.24,277.24 L207.73,277.32 L208.23,277.39 L208.72,277.47 L209.22,277.54 L209.71,277.61 L210.20,277.68 L210.70,277.75 L211.19,277.82 L211.69,277.88 L212.19,277.95 L212.68,278.01 L213.18,278.07 L213.67,278.14 L214.17,278.20 L214.66,278.25 L215.16,278.31 L215.66,278.37 L216.15,278.42 L216.65,278.48 L217.15,278.53 L217.64,278.58 L218.14,278.63 L218.64,278.68 L219.14,278.73 L219.63,278.78 L220.13,278.83 L220.63,278.87 L221.13,278.92 L221.63,278.96 L222.12,279.00 L222.62,279.05 L223.12,279.09 L223.62,279.13 L224.12,279.17 L224.61,279.20 L225.11,279.24 L225.61,279.28 L226.11,279.31 L226.61,279.35 L227.11,279.38 L227.61,279.42 L228.10,279.45 L228.60,279.48 L229.10,279.51 L229.60,279.54 L230.10,279.57 L230.60,279.60 L231.10,279.63 L231.60,279.66 L232.10,279.69 L232.60,279.72 L233.10,279.74 L233.59,279.77 L234.09,279.80 L234.59,279.82 L235.09,279.85 L235.59,279.87 L236.09,279.90 L236.59,279.92 L237.09,279.94 L237.59,279.97 L238.09,279.99 L238.59,280.01 L239.09,280.03 L239.59,280.06 L240.09,280.08 L240.59,280.10 L241.09,280.12 L241.59,280.14 L242.09,280.16 L242.58,280.18 L243.08,280.20 L243.58,280.22 L244.08,280.24 L244.58,280.26 L245.08,280.28 L245.58,280.30 L246.08,280.32 L246.58,280.34 L247.08,280.36 L247.58,280.38 L248.08,280.40 L248.58,280.42 L249.08,280.43 L249.58,280.45 L250.08,280.47 L250.58,280.49 L251.08,280.51 L251.58,280.53 L252.08,280.54 L252.58,280.56 L253.08,280.58 L253.58,280.60 L254.08,280.62 L254.58,280.63 L255.08,280.65 L255.58,280.67 L256.08,280.69 L256.57,280.70 L257.07,280.72 L257.57,280.74 L258.07,280.75 L258.57,280.77 L259.07,280.79 L259.57,280.81 L260.07,280.82 L260.57,280.84 L261.07,280.86 L261.57,280.87 L262.07,280.89 L262.57,280.91 L263.07,280.92 L263.57,280.94 L264.07,280.95 L264.57,280.97 L265.07,280.99 L265.57,281.00 L266.07,281.02 L266.57,281.03 L267.07,281.05 L267.57,281.07 L268.07,281.08 L268.57,281.10 L269.07,281.11 L269.57,281.13 L270.07,281.14 L270.57,281.16 L271.07,281.17 L271.57,281.18 L272.07,281.20 L272.57,281.21 L273.07,281.23 L273.57,281.24 L274.07,281.25 L274.57,281.27 L275.07,281.28 L275.57,281.30 L276.07,281.31 L276.57,281.32 L277.07,281.33 L277.56,281.35 L278.06,281.36 L278.56,281.37 L279.06,281.39 L279.56,281.40 L280.06,281.41 L280.56,281.42 L281.06,281.43 L281.56,281.44 L282.06,281.46 L282.56,281.47 L283.06,281.48 L283.56,281.49 L284.06,281.50 L284.56,281.51 L285.06,281.52 L285.56,281.53 L286.06,281.54 L286.56,281.55 L287.06,281.56 L287.56,281.57 L288.06,281.58 L288.56,281.59 L289.06,281.60 L289.56,281.61 L290.06,281.61 L290.56,281.62 L291.06,281.63 L291.56,281.64 L292.06,281.65 L292.56,281.65 L293.06,281.66 L293.56,281.67 L294.06,281.68 L294.55,281.68 L295.05,281.69 L295.55,281.69 L296.04,281.70 L296.54,281.71 L297.04,281.71 L297.53,281.72 L298.02,281.72 L298.52,281.73 L299.02,281.74 L299.52,281.74 L300.03,281.75 L300.53,281.75 L301.03,281.76 L301.53,281.76 L302.03,281.77 L302.53,281.77 L303.03,281.78 L303.53,281.78 L304.03,281.78 L304.54,281.79 L305.04,281.79 L305.54,281.79 L306.04,281.79 L306.53,281.80 L307.03,281.80 L307.53,281.80 L308.01,281.80 L308.42,281.80" stroke="#0000ff"/>
<path d="M44.30,283.50 L44.58,283.08 L44.85,282.66 L45.11,282.24 L45.38,281.82 L45.63,281.39 L45.89,280.96 L46.14,280.52 L46.38,280.09 L46.63,279.65 L46.87,279.21 L47.10,278.77 L47.34,278.33 L47.57,277.89 L47.79,277.44 L48.02,277.00 L48.24,276.55 L48.46,276.10 L48.68,275.65 L48.89,275.20 L49.11,274.75 L49.32,274.30 L49.55,273.85 L49.77,273.41 L49.99,272.96 L50.21,272.51 L50.42,272.06 L50.64,271.61 L50.85,271.16 L51.06,270.71 L51.27,270.25 L51.47,269.80 L51.68,269.34 L51.88,268.89 L52.08,268.43 L52.27,267.97 L52.47,267.51 L52.66,267.05 L52.85,266.59 L53.04,266.13 L53.23,265.66 L53.41,265.20 L53.59,264.74 L53.77,264.27 L53.95,263.81 L54.13,263.34 L54.30,262.87 L54.47,262.40 L54.64,261.93 L54.81,261.46 L54.98,260.99 L55.14,260.52 L55.30,260.05 L55.46,259.57 L55.61,259.10 L55.77,258.63 L55.92,258.15 L56.07,257.67 L56.22,257.20 L56.37,256.72 L56.51,256.24 L56.66,255.77 L56.80,255.29 L56.94,254.81 L57.07,254.33 L57.21,253.85 L57.34,253.37 L57.48,252.88 L57.61,252.40 L57.74,251.92 L57.87,251.44 L57.99,250.95 L58.12,250.47 L58.24,249.99 L58.37,249.50 L58.49,249.02 L58.61,248.53 L58.73,248.05 L58.85,247.56 L58.96,247.08 L59.08,246.59 L59.19,246.10 L59.31,245.62 L59.42,245.13 L59.54,244.64 L59.65,244.16 L59.76,243.67 L59.87,243.18 L59.98,242.69 L60.09,242.21 L60.20,241.72 L60.31,241.23 L60.42,240.74 L60.52,240.25 L60.63,239.77 L60.74,239.28 L60.84,238.79 L60.95,238.30 L61.06,237.81 L61.16,237.32 L61.27,236.83 L61.37,236.35 L61.48,235.86 L61.58,235.37 L61.69,234.88 L61.79,234.39 L61.90,233.90 L62.00,233.41 L62.10,232.92 L62.21,232.43 L62.31,231.95 L62.42,231.46 L62.52,230.97 L62.62,230.48 L62.73,229.99 L62.83,229.50 L62.94,229.01 L63.04,228.52 L63.14,228.03 L63.25,227.54 L63.35,227.05 L63.45,226.56 L63.56,226.08 L63.66,225.59 L63.76,225.10 L63.87,224.61 L63.97,224.12 L64.07,223.63 L64.17,223.14 L64.28,222.65 L64.38,222.16 L64.48,221.67 L64.59,221.18 L64.69,220.69 L64.79,220.20 L64.89,219.72 L65.00,219.23 L65.10,218.74 L65.20,218.25 L65.31,217.76 L65.41,217.27 L65.51,216.78 L65.61,216.29 L65.72,215.80 L65.82,215.31 L65.92,214.82 L66.02,214.33 L66.13,213.84 L66.23,213.35 L66.33,212.86 L66.43,212.37 L66.53,211.88 L66.64,211.40 L66.74,210.91 L66.84,210.42 L66.94,209.93 L67.04,209.44 L67.15,208.95 L67.25,208.46 L67.35,207.97 L67.45,207.48 L67.55,206.99 L67.65,206.50 L67.75,206.01 L67.85,205.52 L67.95,205.03 L68.05,204.54 L68.15,204.05 L68.25,203.56 L68.35,203.07 L68.45,202.58 L68.55,202.09 L68.65,201.60 L68.75,201.11 L68.85,200.62 L68.95,200.13 L69.05,199.64 L69.15,199.15 L69.25,198.66 L69.34,198.17 L69.44,197.68 L69.54,197.19 L69.64,196.70 L69.73,196.21 L69.83,195.72 L69.93,195.23 L70.03,194.74 L70.12,194.25 L70.22,193.76 L70.31,193.27 L70.41,192.77 L70.51,192.28 L70.60,191.79 L70.70,191.30 L70.79,190.81 L70.89,190.32 L70.98,189.83 L71.08,189.34 L71.17,188.85 L71.27,188.36 L71.36,187.87 L71.46,187.37 L71.55,186.88 L71.65,186.39 L71.74,185.90 L71.83,185.41 L71.93,184.92 L72.02,184.43 L72.12,183.94 L72.21,183.45 L72.31,182.96 L72.40,182.46 L72.49,181.97 L72.59,181.48 L72.68,180.99 L72.78,180.50 L72.87,180.01 L72.97,179.52 L73.06,179.03 L73.16,178.54 L73.25,178.05 L73.35,177.56 L73.44,177.06 L73.54,176.57 L73.63,176.08 L73.73,175.59 L73.83,175.10 L73.92,174.61 L74.02,174.12 L74.11,173.63 L74.21,173.14 L74.31,172.65 L74.41,172.16 L74.50,171.67 L74.60,171.18 L74.70,170.69 L74.80,170.20 L74.90,169.71 L75.00,169.22 L75.10,168.73 L75.20,168.24 L75.30,167.75 L75.40,167.26 L75.50,166.77 L75.60,166.28 L75.70,165.79 L75.81,165.30 L75.91,164.81 L76.01,164.32 L76.12,163.83 L76.22,163.34 L76.33,162.86 L76.43,162.37 L76.54,161.88 L76.64,161.39 L76.75,160.90 L76.86,160.41 L76.96,159.92 L77.07,159.44 L77.18,158.95 L77.29,158.46 L77.40,157.97 L77.51,157.48 L77.62,157.00 L77.73,156.51 L77.84,156.02 L77.95,155.53 L78.06,155.05 L78.17,154.56 L78.28,154.07 L78.39,153.58 L78.51,153.10 L78.62,152.61 L78.73,152.12 L78.85,151.64 L78.96,151.15 L79.08,150.66 L79.19,150.18 L79.31,149.69 L79.42,149.20 L79.54,148.72 L79.65,148.23 L79.77,147.74 L79.89,147.26 L80.00,146.77 L80.12,146.29 L80.24,145.80 L80.36,145.31 L80.47,144.83 L80.59,144.34 L80.71,143.86 L80.83,143.37 L80.95,142.89 L81.07,142.40 L81.19,141.91 L81.31,141.43 L81.43,140.94 L81.55,140.46 L81.68,139.97 L81.80,139.49 L81.92,139.00 L82.04,138.52 L82.17,138.04 L82.29,137.55 L82.41,137.07 L82.54,136.58 L82.66,136.10 L82.79,135.61 L82.91,135.13 L83.04,134.65 L83.16,134.16 L83.29,133.68 L83.42,133.20 L83.54,132.71 L83.67,132.23 L83.80,131.74 L83.93,131.26 L84.06,130.78 L84.19,130.30 L84.32,129.81 L84.45,129.33 L84.58,128.85 L84.71,128.36 L84.84,127.88 L84.97,127.40 L85.10,126.92 L85.23,126.44 L85.37,125.95 L85.50,125.47 L85.63,124.99 L85.77,124.51 L85.90,124.03 L86.04,123.54 L86.17,123.06 L86.31,122.58 L86.44,122.10 L86.58,121.62 L86.71,121.14 L86.85,120.66 L86.99,120.18 L87.13,119.70 L87.26,119.22 L87.40,118.74 L87.54,118.26 L87.68,117.78 L87.82,117.30 L87.96,116.82 L88.10,116.34 L88.24,115.86 L88.39,115.38 L88.53,114.90 L88.67,114.42 L88.81,113.94 L88.96,113.46 L89.10,112.98 L89.24,112.50 L89.39,112.02 L89.54,111.55 L89.68,111.07 L89.83,110.59 L89.97,110.11 L90.12,109.63 L90.27,109.16 L90.42,108.68 L90.57,108.20 L90.72,107.73 L90.87,107.25 L91.02,106.77 L91.18,106.30 L91.33,105.82 L91.48,105.35 L91.64,104.87 L91.80,104.40 L91.95,103.92 L92.11,103.45 L92.27,102.97 L92.43,102.50 L92.59,102.03 L92.75,101.56 L92.92,101.08 L93.08,100.61 L93.25,100.14 L93.41,99.67 L93.58,99.20 L93.75,98.73 L93.92,98.26 L94.09,97.79 L94.26,97.32 L94.44,96.85 L94.61,96.38 L94.79,95.92 L94.97,95.45 L95.15,94.98 L95.33,94.52 L95.51,94.05 L95.69,93.59 L95.87,93.12 L96.06,92.66 L96.24,92.19 L96.43,91.73 L96.62,91.27 L96.81,90.81 L97.00,90.34 L97.19,89.88 L97.38,89.42 L97.58,88.96 L97.77,88.50 L97.97,88.04 L98.17,87.58 L98.37,87.13 L98.57,86.67 L98.77,86.21 L98.97,85.76 L99.18,85.30 L99.38,84.85 L99.59,84.39 L99.80,83.94 L100.01,83.49 L100.23,83.04 L100.44,82.59 L100.66,82.14 L100.88,81.70 L101.10,81.25 L101.33,80.81 L101.55,80.36 L101.78,79.92 L102.02,79.48 L102.25,79.04 L102.49,78.60 L102.73,78.17 L102.97,77.73 L103.21,77.30 L103.46,76.87 L103.71,76.44 L103.96,76.01 L104.22,75.58 L104.48,75.16 L104.74,74.73 L105.00,74.31 L105.27,73.89 L105.53,73.47 L105.80,73.05 L106.07,72.63 L106.35,72.22 L106.63,71.80 L106.90,71.39 L107.18,70.98 L107.47,70.57 L107.75,70.16 L108.04,69.75 L108.33,69.35 L108.62,68.94 L108.91,68.54 L109.20,68.14 L109.50,67.74 L109.80,67.34 L110.10,66.94 L110.40,66.55 L110.70,66.15 L111.01,65.76 L111.32,65.37 L111.63,64.98 L111.94,64.59 L112.26,64.21 L112.57,63.82 L112.89,63.44 L113.21,63.06 L113.54,62.69 L113.87,62.32 L114.20,61.94 L114.53,61.58 L114.87,61.21 L115.20,60.85 L115.55,60.49 L115.89,60.13 L116.24,59.78 L116.59,59.43 L116.94,59.08 L117.30,58.74 L117.66,58.40 L118.02,58.07 L118.39,57.73 L118.76,57.41 L119.14,57.08 L119.51,56.76 L119.89,56.45 L120.28,56.13 L120.66,55.83 L121.05,55.52 L121.45,55.22 L121.84,54.93 L122.24,54.64 L122.65,54.36 L123.05,54.07 L123.46,53.80 L123.87,53.53 L124.29,53.26 L124.71,53.00 L125.13,52.74 L125.55,52.49 L125.98,52.24 L126.41,52.00 L126.84,51.76 L127.28,51.53 L127.72,51.30 L128.16,51.08 L128.60,50.86 L129.05,50.65 L129.49,50.44 L129.94,50.24 L130.40,50.04 L130.85,49.84 L131.31,49.66 L131.77,49.47 L132.23,49.29 L132.69,49.12 L133.16,48.95 L133.62,48.78 L134.09,48.62 L134.56,48.47 L135.03,48.32 L135.51,48.17 L135.98,48.03 L136.46,47.89 L136.93,47.76 L137.41,47.63 L137.89,47.51 L138.37,47.39 L138.86,47.27 L139.34,47.16 L139.83,47.06 L140.31,46.95 L140.80,46.85 L141.29,46.76 L141.77,46.67 L142.26,46.58 L142.75,46.50 L143.24,46.42 L143.73,46.34 L144.23,46.27 L144.72,46.20 L145.21,46.13 L145.71,46.07 L146.20,46.00 L146.70,45.95 L147.19,45.89 L147.69,45.84 L148.18,45.79 L148.68,45.75 L149.17,45.70 L149.67,45.66 L150.17,45.62 L150.67,45.59 L151.16,45.55 L151.66,45.52 L152.16,45.49 L152.66,45.46 L153.16,45.44 L153.66,45.41 L154.15,45.39 L154.65,45.37 L155.15,45.35 L155.65,45.33 L156.15,45.32 L156.65,45.30 L157.15,45.29 L157.65,45.28 L158.15,45.27 L158.65,45.26 L159.15,45.26 L159.65,45.25 L160.15,45.25 L160.65,45.25 L161.14,45.25 L161.64,45.25 L162.14,45.25 L162.64,45.26 L163.14,45.26 L163.64,45.27 L164.14,45.28 L164.64,45.28 L165.14,45.29 L165.64,45.30 L166.14,45.32 L166.64,45.33 L167.14,45.34 L167.64,45.36 L168.14,45.37 L168.64,45.39 L169.14,45.41 L169.64,45.43 L170.14,45.45 L170.64,45.47 L171.14,45.49 L171.64,45.51 L172.14,45.53 L172.63,45.55 L173.13,45.57 L173.63,45.60 L174.13,45.62 L174.63,45.65 L175.13,45.67 L175.63,45.70 L176.13,45.72 L176.63,45.75 L177.13,45.78 L177.63,45.81 L178.13,45.84 L178.63,45.86 L179.12,45.89 L179.62,45.92 L180.12,45.95 L180.62,45.99 L181.12,46.02 L181.62,46.05 L182.12,46.08 L182.62,46.12 L183.12,46.15 L183.61,46.18 L184.11,46.22 L184.61,46.26 L185.11,46.29 L185.61,46.33 L186.11,46.37 L186.61,46.41 L187.10,46.45 L187.60,46.49 L188.10,46.53 L188.60,46.57 L189.10,46.62 L189.59,46.66 L190.09,46.70 L190.59,46.75 L191.09,46.80 L191.58,46.85 L192.08,46.89 L192.58,46.94 L193.08,46.99 L193.57,47.04 L194.07,47.10 L194.57,47.15 L195.07,47.20 L195.56,47.26 L196.06,47.31 L196.56,47.37 L197.05,47.43 L197.55,47.49 L198.04,47.55 L198.54,47.60 L199.04,47.67 L199.53,47.73 L200.03,47.79 L200.53,47.85 L201.02,47.91 L201.52,47.98 L202.01,48.04 L202.51,48.11 L203.00,48.17 L203.50,48.24 L203.99,48.31 L204.49,48.37 L204.99,48.44 L205.48,48.51 L205.98,48.58 L206.47,48.65 L206.97,48.72 L207.46,48.78 L207.96,48.85 L208.45,48.92 L208.95,48.99 L209.44,49.06 L209.94,49.13 L210.43,49.20 L210.93,49.27 L211.42,49.34 L211.92,49.41 L212.41,49.48 L212.91,49.55 L213.40,49.62 L213.90,49.69 L214.39,49.76 L214.89,49.82 L215.38,49.89 L215.88,49.96 L216.38,50.03 L216.87,50.10 L217.37,50.16 L217.86,50.23 L218.36,50.30 L218.85,50.36 L219.35,50.43 L219.84,50.50 L220.34,50.56 L220.83,50.63 L221.33,50.69 L221.83,50.76 L222.32,50.82 L222.82,50.88 L223.31,50.95 L223.81,51.01 L224.31,51.07 L224.80,51.14 L225.30,51.20 L225.79,51.26 L226.29,51.32 L226.79,51.39 L227.28,51.45 L227.78,51.51 L228.28,51.57 L228.77,51.63 L229.27,51.69 L229.76,51.75 L230.26,51.81 L230.76,51.87 L231.25,51.93 L231.75,51.99 L232.25,52.05 L232.74,52.11 L233.24,52.17 L233.73,52.23 L234.23,52.29 L234.73,52.35 L235.22,52.41 L235.72,52.47 L236.22,52.53 L236.71,52.59 L237.21,52.65 L237.71,52.71 L238.20,52.76 L238.70,52.82 L239.20,52.88 L239.69,52.94 L240.19,53.00 L240.69,53.06 L241.18,53.12 L241.68,53.18 L242.18,53.23 L242.67,53.29 L243.17,53.35 L243.67,53.41 L244.16,53.47 L244.66,53.53 L245.15,53.59 L245.65,53.65 L246.15,53.71 L246.64,53.76 L247.14,53.82 L247.64,53.88 L248.13,53.94 L248.63,54.00 L249.13,54.06 L249.62,54.12 L250.12,54.18 L250.62,54.24 L251.11,54.30 L251.61,54.36 L252.11,54.42 L252.60,54.48 L253.10,54.54 L253.59,54.60 L254.09,54.66 L254.59,54.72 L255.08,54.78 L255.58,54.84 L256.08,54.90 L256.57,54.96 L257.07,55.02 L257.57,55.08 L258.06,55.14 L258.56,55.20 L259.05,55.27 L259.55,55.33 L260.05,55.39 L260.54,55.45 L261.04,55.51 L261.53,55.58 L262.03,55.64 L262.53,55.70 L263.02,55.77 L263.52,55.83 L264.01,55.89 L264.51,55.96 L265.01,56.02 L265.50,56.09 L266.00,56.15 L266.49,56.22 L266.99,56.28 L267.48,56.35 L267.98,56.41 L268.48,56.48 L268.97,56.54 L269.47,56.61 L269.96,56.68 L270.46,56.74 L270.95,56.81 L271.45,56.88 L271.94,56.94 L272.44,57.01 L272.94,57.08 L273.43,57.14 L273.93,57.21 L274.42,57.28 L274.92,57.35 L275.41,57.42 L275.91,57.48 L276.40,57.55 L276.90,57.62 L277.39,57.69 L277.89,57.76 L278.38,57.83 L278.88,57.89 L279.37,57.96 L279.87,58.03 L280.37,58.10 L280.86,58.17 L281.36,58.24 L281.85,58.31 L282.35,58.37 L282.84,58.44 L283.34,58.51 L283.83,58.58 L284.33,58.65 L284.82,58.71 L285.32,58.78 L285.81,58.85 L286.31,58.92 L286.81,58.98 L287.30,59.05 L287.80,59.12 L288.29,59.18 L288.79,59.25 L289.28,59.32 L289.78,59.38 L290.27,59.45 L290.77,59.51 L291.26,59.58 L291.76,59.64 L292.25,59.70 L292.75,59.77 L293.24,59.83 L293.73,59.89 L294.23,59.96 L294.72,60.02 L295.21,60.08 L295.70,60.14 L296.18,60.20 L296.67,60.26 L297.15,60.32 L297.64,60.38 L298.12,60.44 L298.61,60.50 L299.11,60.56 L299.61,60.62 L300.11,60.69 L300.61,60.75 L301.11,60.81 L301.61,60.87 L302.11,60.93 L302.61,60.99 L303.11,61.04 L303.61,61.10 L304.11,61.16 L304.61,61.21 L305.10,61.26 L305.60,61.32 L306.10,61.37 L306.59,61.42 L307.08,61.47 L307.56,61.51 L308.03,61.56 L308.33,61.58" stroke="#00ff00"/>
</g>
<g class="tl">
<text transform="translate(42.00,287.70) scale(0.77,1)" text-anchor="end">0</text>
<text transform="translate(42.00,248.40) scale(0.77,1)" text-anchor="end">1</text>
<text transform="translate(42.00,209.10) scale(0.77,1)" text-anchor="end">2</text>
<text transform="translate(42.00,169.80) scale(0.77,1)" text-anchor="end">3</text>
<text transform="translate(42.00,130.50) scale(0.77,1)" text-anchor="end">4</text>
<text transform="translate(42.00,91.20) scale(0.77,1)" text-anchor="end">5</text>
<text transform="translate(42.00,51.90) scale(0.77,1)" text-anchor="end">6</text>
<text transform="translate(42.00,12.60) scale(0.77,1)" text-anchor="end">7</text>
<text transform="translate(44.60,296.50) scale(0.77,1)" text-anchor="middle">0</text>
<text transform="translate(132.73,296.50) scale(0.77,1)" text-anchor="middle">5</text>
<text transform="translate(220.87,296.50) scale(0.77,1)" text-anchor="middle">10</text>
<text transform="translate(309.00,296.50) scale(0.77,1)" text-anchor="middle">15</text>
</g>
<rect x="263.0" y="14.0" width="40.5" height="68.6" fill="#fff" stroke="#888888" stroke-width="1.4"/>
<path d="M267.50,22.30h24" stroke="#ff00ff" stroke-width="2"/>
<text class="lg" transform="translate(293.40,26.20) scale(0.85,1)">S</text>
<path d="M267.50,35.33h24" stroke="#000000" stroke-width="2"/>
<text class="lg" transform="translate(293.40,39.23) scale(0.85,1)">E</text>
<path d="M267.50,48.36h24" stroke="#ff0000" stroke-width="2"/>
<text class="lg" transform="translate(293.40,52.26) scale(0.85,1)">I</text>
<path d="M267.50,61.39h24" stroke="#0000ff" stroke-width="2"/>
<text class="lg" transform="translate(293.40,65.29) scale(0.85,1)">D</text>
<path d="M267.50,74.42h24" stroke="#00ff00" stroke-width="2"/>
<text class="lg" transform="translate(293.40,78.32) scale(0.85,1)">H</text>
<path d="M392.0,8L392.0,284" stroke="#4a4a4a" stroke-width="1" fill="none"/>
<path d="M391.5,283.5L656.7,283.5" stroke="#7a7a7a" stroke-width="1" fill="none"/>
<path d="M656.2,284L656.2,8" stroke="#4a4a4a" stroke-width="1" fill="none"/>
<path d="M656.7,8.5L391.5,8.5" stroke="#7a7a7a" stroke-width="1" fill="none"/>
<path d="M480.07,283.5v-3M480.07,8.5v3M568.33,283.5v-3M568.33,8.5v3M392.0,252.93h3M656.2,252.93h-3M392.0,222.37h3M656.2,222.37h-3M392.0,191.80h3M656.2,191.80h-3M392.0,161.23h3M656.2,161.23h-3M392.0,130.67h3M656.2,130.67h-3M392.0,100.10h3M656.2,100.10h-3M392.0,69.53h3M656.2,69.53h-3M392.0,38.97h3M656.2,38.97h-3" stroke="#505050" stroke-width="1" fill="none"/>
<clipPath id="cb"><rect x="391.60" y="7.5" width="265.20" height="277.5"/></clipPath>
<g clip-path="url(#cb)" fill="none" stroke-width="2" stroke-linejoin="round">
<path d="M391.70,100.20 L391.81,100.69 L391.92,101.18 L392.02,101.66 L392.12,102.15 L392.21,102.65 L392.31,103.14 L392.39,103.63 L392.48,104.12 L392.56,104.62 L392.64,105.11 L392.72,105.60 L392.79,106.10 L392.87,106.59 L392.94,107.09 L393.01,107.58 L393.08,108.08 L393.15,108.57 L393.21,109.07 L393.28,109.56 L393.34,110.06 L393.40,110.55 L393.48,111.05 L393.55,111.54 L393.62,112.04 L393.69,112.53 L393.75,113.03 L393.82,113.52 L393.88,114.02 L393.95,114.51 L394.01,115.01 L394.07,115.50 L394.13,116.00 L394.19,116.50 L394.25,116.99 L394.31,117.49 L394.37,117.99 L394.42,118.48 L394.48,118.98 L394.53,119.48 L394.59,119.97 L394.64,120.47 L394.70,120.97 L394.75,121.46 L394.80,121.96 L394.86,122.46 L394.91,122.96 L394.96,123.45 L395.01,123.95 L395.07,124.45 L395.12,124.94 L395.17,125.44 L395.22,125.94 L395.27,126.44 L395.33,126.93 L395.38,127.43 L395.43,127.93 L395.48,128.43 L395.53,128.92 L395.59,129.42 L395.64,129.92 L395.69,130.41 L395.74,130.91 L395.80,131.41 L395.85,131.91 L395.90,132.40 L395.96,132.90 L396.01,133.40 L396.07,133.89 L396.12,134.39 L396.17,134.89 L396.23,135.39 L396.28,135.88 L396.34,136.38 L396.39,136.88 L396.45,137.37 L396.50,137.87 L396.56,138.37 L396.62,138.86 L396.67,139.36 L396.73,139.86 L396.78,140.35 L396.84,140.85 L396.90,141.35 L396.96,141.84 L397.01,142.34 L397.07,142.84 L397.13,143.33 L397.19,143.83 L397.24,144.33 L397.30,144.82 L397.36,145.32 L397.42,145.82 L397.48,146.31 L397.54,146.81 L397.60,147.31 L397.66,147.80 L397.72,148.30 L397.78,148.79 L397.85,149.29 L397.91,149.79 L397.97,150.28 L398.03,150.78 L398.10,151.27 L398.16,151.77 L398.23,152.27 L398.29,152.76 L398.36,153.26 L398.43,153.75 L398.50,154.25 L398.57,154.74 L398.64,155.24 L398.71,155.73 L398.78,156.23 L398.85,156.72 L398.93,157.21 L399.00,157.71 L399.08,158.20 L399.15,158.70 L399.23,159.19 L399.31,159.68 L399.39,160.18 L399.47,160.67 L399.56,161.16 L399.64,161.66 L399.72,162.15 L399.81,162.64 L399.90,163.13 L399.98,163.62 L400.07,164.12 L400.16,164.61 L400.25,165.10 L400.34,165.59 L400.43,166.08 L400.52,166.57 L400.62,167.06 L400.71,167.56 L400.80,168.05 L400.90,168.54 L400.99,169.03 L401.08,169.52 L401.18,170.01 L401.27,170.50 L401.37,170.99 L401.46,171.48 L401.56,171.97 L401.65,172.47 L401.74,172.96 L401.84,173.45 L401.93,173.94 L402.03,174.43 L402.12,174.92 L402.21,175.41 L402.30,175.90 L402.39,176.40 L402.48,176.89 L402.57,177.38 L402.66,177.87 L402.75,178.36 L402.84,178.85 L402.93,179.35 L403.02,179.84 L403.10,180.33 L403.19,180.82 L403.27,181.32 L403.36,181.81 L403.44,182.30 L403.53,182.79 L403.61,183.29 L403.69,183.78 L403.77,184.27 L403.85,184.77 L403.94,185.26 L404.02,185.75 L404.10,186.25 L404.18,186.74 L404.26,187.23 L404.34,187.73 L404.42,188.22 L404.50,188.71 L404.58,189.21 L404.66,189.70 L404.74,190.19 L404.82,190.69 L404.90,191.18 L404.98,191.67 L405.06,192.17 L405.14,192.66 L405.23,193.15 L405.31,193.64 L405.40,194.14 L405.48,194.63 L405.57,195.12 L405.66,195.61 L405.75,196.10 L405.84,196.59 L405.94,197.08 L406.03,197.57 L406.13,198.06 L406.22,198.55 L406.32,199.04 L406.42,199.53 L406.53,200.02 L406.63,200.51 L406.74,201.00 L406.85,201.48 L406.96,201.97 L407.07,202.46 L407.18,202.94 L407.30,203.43 L407.41,203.91 L407.53,204.40 L407.65,204.88 L407.78,205.37 L407.90,205.85 L408.03,206.33 L408.15,206.82 L408.28,207.30 L408.41,207.78 L408.54,208.26 L408.68,208.74 L408.81,209.22 L408.95,209.70 L409.09,210.18 L409.22,210.66 L409.37,211.14 L409.51,211.62 L409.65,212.10 L409.80,212.58 L409.94,213.05 L410.09,213.53 L410.24,214.01 L410.39,214.48 L410.54,214.96 L410.70,215.43 L410.85,215.91 L411.01,216.38 L411.17,216.85 L411.33,217.33 L411.49,217.80 L411.65,218.27 L411.82,218.74 L411.98,219.21 L412.15,219.69 L412.32,220.16 L412.49,220.63 L412.65,221.10 L412.82,221.57 L412.99,222.03 L413.17,222.50 L413.34,222.97 L413.51,223.44 L413.68,223.91 L413.85,224.38 L414.02,224.85 L414.19,225.32 L414.36,225.79 L414.53,226.26 L414.70,226.73 L414.87,227.20 L415.04,227.67 L415.21,228.14 L415.38,228.61 L415.54,229.08 L415.71,229.55 L415.87,230.02 L416.04,230.49 L416.20,230.96 L416.37,231.43 L416.53,231.91 L416.69,232.38 L416.85,232.85 L417.02,233.32 L417.18,233.79 L417.34,234.27 L417.51,234.74 L417.67,235.21 L417.84,235.68 L418.00,236.15 L418.17,236.62 L418.34,237.09 L418.51,237.55 L418.68,238.02 L418.85,238.49 L419.03,238.95 L419.21,239.42 L419.39,239.88 L419.57,240.34 L419.76,240.81 L419.95,241.26 L420.14,241.72 L420.34,242.18 L420.54,242.63 L420.74,243.09 L420.95,243.54 L421.16,243.99 L421.37,244.44 L421.59,244.88 L421.81,245.33 L422.03,245.77 L422.26,246.21 L422.49,246.65 L422.73,247.09 L422.97,247.52 L423.21,247.95 L423.46,248.38 L423.71,248.81 L423.96,249.24 L424.22,249.66 L424.48,250.09 L424.74,250.51 L425.01,250.93 L425.27,251.35 L425.55,251.76 L425.82,252.17 L426.10,252.59 L426.38,253.00 L426.66,253.41 L426.95,253.81 L427.24,254.22 L427.53,254.62 L427.82,255.02 L428.12,255.42 L428.42,255.82 L428.72,256.21 L429.02,256.61 L429.33,257.00 L429.64,257.39 L429.95,257.77 L430.26,258.16 L430.58,258.54 L430.90,258.92 L431.22,259.29 L431.55,259.67 L431.88,260.04 L432.21,260.41 L432.54,260.77 L432.87,261.15 L433.20,261.51 L433.54,261.87 L433.89,262.22 L434.24,262.57 L434.60,262.91 L434.97,263.24 L435.34,263.57 L435.70,263.90 L436.07,264.23 L436.44,264.56 L436.81,264.88 L437.19,265.20 L437.57,265.51 L437.96,265.82 L438.35,266.13 L438.74,266.43 L439.13,266.72 L439.53,267.02 L439.93,267.30 L440.34,267.59 L440.74,267.87 L441.15,268.14 L441.57,268.41 L441.98,268.68 L442.40,268.94 L442.82,269.20 L443.25,269.45 L443.67,269.71 L444.10,269.96 L444.53,270.20 L444.97,270.43 L445.41,270.65 L445.85,270.88 L446.29,271.10 L446.74,271.32 L447.18,271.53 L447.63,271.74 L448.08,271.95 L448.53,272.15 L448.99,272.35 L449.45,272.54 L449.90,272.73 L450.36,272.92 L450.83,273.10 L451.29,273.28 L451.76,273.45 L452.22,273.62 L452.69,273.79 L453.16,273.96 L453.63,274.12 L454.10,274.28 L454.57,274.43 L455.05,274.59 L455.52,274.74 L456.00,274.89 L456.47,275.03 L456.95,275.17 L457.43,275.31 L457.91,275.45 L458.39,275.59 L458.87,275.72 L459.35,275.85 L459.83,275.98 L460.32,276.10 L460.80,276.23 L461.28,276.35 L461.77,276.47 L462.25,276.58 L462.74,276.70 L463.23,276.81 L463.71,276.92 L464.20,277.03 L464.69,277.14 L465.17,277.24 L465.66,277.34 L466.15,277.44 L466.64,277.54 L467.13,277.64 L467.62,277.73 L468.11,277.82 L468.60,277.91 L469.09,278.00 L469.59,278.09 L470.08,278.17 L470.57,278.25 L471.06,278.33 L471.56,278.41 L472.05,278.48 L472.54,278.55 L473.04,278.62 L473.53,278.69 L474.03,278.76 L474.52,278.82 L475.02,278.88 L475.51,278.94 L476.01,279.00 L476.50,279.06 L477.00,279.11 L477.50,279.16 L477.99,279.21 L478.49,279.26 L478.99,279.30 L479.48,279.35 L479.98,279.39 L480.48,279.43 L480.98,279.46 L481.47,279.50 L481.97,279.53 L482.47,279.57 L482.97,279.60 L483.47,279.63 L483.97,279.66 L484.47,279.68 L484.96,279.71 L485.46,279.73 L485.96,279.76 L486.46,279.78 L486.96,279.80 L487.46,279.82 L487.96,279.84 L488.46,279.86 L488.96,279.88 L489.46,279.90 L489.96,279.92 L490.46,279.93 L490.96,279.95 L491.46,279.96 L491.96,279.98 L492.46,279.99 L492.96,280.01 L493.46,280.02 L493.96,280.03 L494.46,280.05 L494.96,280.06 L495.46,280.07 L495.96,280.08 L496.45,280.09 L496.95,280.11 L497.45,280.12 L497.95,280.13 L498.45,280.14 L498.95,280.15 L499.45,280.16 L499.95,280.17 L500.45,280.18 L500.95,280.19 L501.45,280.20 L501.95,280.21 L502.45,280.21 L502.95,280.22 L503.45,280.23 L503.95,280.24 L504.45,280.25 L504.95,280.26 L505.45,280.27 L505.95,280.27 L506.45,280.28 L506.95,280.29 L507.45,280.30 L507.95,280.31 L508.45,280.31 L508.95,280.32 L509.45,280.33 L509.95,280.34 L510.45,280.34 L510.95,280.35 L511.45,280.36 L511.95,280.37 L512.45,280.37 L512.95,280.38 L513.45,280.39 L513.95,280.39 L514.45,280.40 L514.95,280.41 L515.45,280.41 L515.95,280.42 L516.45,280.43 L516.95,280.44 L517.45,280.44 L517.95,280.45 L518.45,280.46 L518.95,280.46 L519.45,280.47 L519.95,280.47 L520.45,280.48 L520.95,280.49 L521.45,280.49 L521.95,280.50 L522.45,280.51 L522.95,280.51 L523.45,280.52 L523.95,280.53 L524.45,280.53 L524.95,280.54 L525.45,280.54 L525.95,280.55 L526.45,280.56 L526.95,280.56 L527.45,280.57 L527.95,280.57 L528.45,280.58 L528.95,280.59 L529.45,280.59 L529.95,280.60 L530.45,280.60 L530.95,280.61 L531.45,280.61 L531.95,280.62 L532.45,280.62 L532.95,280.63 L533.45,280.63 L533.95,280.64 L534.45,280.65 L534.95,280.65 L535.45,280.66 L535.95,280.66 L536.45,280.66 L536.95,280.67 L537.45,280.67 L537.95,280.68 L538.45,280.68 L538.95,280.69 L539.45,280.69 L539.95,280.70 L540.45,280.70 L540.95,280.71 L541.45,280.71 L541.95,280.71 L542.45,280.72 L542.95,280.72 L543.45,280.73 L543.95,280.73 L544.45,280.73 L544.95,280.74 L545.45,280.74 L545.95,280.74 L546.45,280.75 L546.95,280.75 L547.45,280.75 L547.95,280.76 L548.45,280.76 L548.95,280.76 L549.45,280.77 L549.95,280.77 L550.45,280.77 L550.95,280.77 L551.45,280.78 L551.95,280.78 L552.45,280.78 L552.95,280.79 L553.45,280.79 L553.95,280.79 L554.45,280.79 L554.95,280.79 L555.45,280.80 L555.95,280.80 L556.45,280.80 L556.95,280.80 L557.45,280.81 L557.95,280.81 L558.45,280.81 L558.95,280.81 L559.45,280.81 L559.95,280.82 L560.45,280.82 L560.95,280.82 L561.45,280.82 L561.95,280.82 L562.45,280.83 L562.95,280.83 L563.45,280.83 L563.95,280.83 L564.45,280.83 L564.95,280.83 L565.45,280.84 L565.95,280.84 L566.45,280.84 L566.95,280.84 L567.45,280.84 L567.95,280.84 L568.45,280.85 L568.95,280.85 L569.45,280.85 L569.95,280.85 L570.45,280.85 L570.95,280.85 L571.45,280.86 L571.95,280.86 L572.45,280.86 L572.95,280.86 L573.45,280.86 L573.95,280.86 L574.45,280.86 L574.95,280.87 L575.45,280.87 L575.95,280.87 L576.45,280.87 L576.95,280.87 L577.45,280.87 L577.95,280.88 L578.45,280.88 L578.95,280.88 L579.45,280.88 L579.95,280.88 L580.45,280.88 L580.95,280.88 L581.45,280.89 L581.95,280.89 L582.45,280.89 L582.95,280.89 L583.45,280.89 L583.95,280.89 L584.45,280.89 L584.95,280.90 L585.45,280.90 L585.95,280.90 L586.45,280.90 L586.95,280.90 L587.45,280.90 L587.95,280.90 L588.45,280.90 L588.95,280.91 L589.45,280.91 L589.95,280.91 L590.45,280.91 L590.95,280.91 L591.45,280.91 L591.95,280.91 L592.45,280.91 L592.95,280.92 L593.45,280.92 L593.95,280.92 L594.45,280.92 L594.95,280.92 L595.45,280.92 L595.95,280.92 L596.45,280.92 L596.95,280.93 L597.45,280.93 L597.95,280.93 L598.45,280.93 L598.95,280.93 L599.45,280.93 L599.95,280.93 L600.45,280.93 L600.95,280.93 L601.45,280.94 L601.95,280.94 L602.45,280.94 L602.95,280.94 L603.45,280.94 L603.95,280.94 L604.45,280.94 L604.95,280.94 L605.45,280.94 L605.95,280.95 L606.45,280.95 L606.95,280.95 L607.45,280.95 L607.95,280.95 L608.45,280.95 L608.95,280.95 L609.45,280.95 L609.95,280.95 L610.45,280.95 L610.95,280.96 L611.45,280.96 L611.95,280.96 L612.45,280.96 L612.95,280.96 L613.45,280.96 L613.95,280.96 L614.45,280.96 L614.95,280.96 L615.45,280.96 L615.95,280.96 L616.45,280.96 L616.95,280.97 L617.45,280.97 L617.95,280.97 L618.45,280.97 L618.95,280.97 L619.45,280.97 L619.95,280.97 L620.45,280.97 L620.95,280.97 L621.45,280.97 L621.95,280.97 L622.45,280.97 L622.95,280.97 L623.45,280.98 L623.95,280.98 L624.45,280.98 L624.95,280.98 L625.45,280.98 L625.95,280.98 L626.45,280.98 L626.95,280.98 L627.45,280.98 L627.95,280.98 L628.45,280.98 L628.95,280.98 L629.45,280.98 L629.95,280.98 L630.45,280.98 L630.95,280.98 L631.45,280.99 L631.95,280.99 L632.45,280.99 L632.95,280.99 L633.45,280.99 L633.95,280.99 L634.45,280.99 L634.95,280.99 L635.45,280.99 L635.95,280.99 L636.45,280.99 L636.95,280.99 L637.45,280.99 L637.95,280.99 L638.45,280.99 L638.95,280.99 L639.45,280.99 L639.95,280.99 L640.45,280.99 L640.95,280.99 L641.45,280.99 L641.94,280.99 L642.44,280.99 L642.94,280.99 L643.44,281.00 L643.94,281.00 L644.43,281.00 L644.93,281.00 L645.42,281.00 L645.92,281.00 L646.42,281.00 L646.92,281.00 L647.42,281.00 L647.92,281.00 L648.42,281.00 L648.92,281.00 L649.42,281.00 L649.92,281.00 L650.43,281.00 L650.93,281.00 L651.43,281.00 L651.93,281.00 L652.43,281.00 L652.93,281.00 L653.43,281.00 L653.93,281.00 L654.43,281.00 L654.93,281.00 L655.42,281.00 L655.91,281.00 L656.34,281.00" stroke="#ff00ff"/>
<path d="M392.20,190.80 L392.23,190.30 L392.26,189.80 L392.29,189.30 L392.32,188.80 L392.35,188.30 L392.38,187.81 L392.41,187.31 L392.44,186.81 L392.48,186.31 L392.52,185.81 L392.56,185.31 L392.61,184.82 L392.66,184.32 L392.72,183.83 L392.79,183.33 L392.86,182.84 L392.95,182.35 L393.04,181.87 L393.13,181.39 L393.24,180.91 L393.35,180.44 L393.43,179.96 L393.52,179.49 L393.62,179.01 L393.72,178.54 L393.82,178.08 L393.91,177.59 L394.00,177.11 L394.09,176.63 L394.19,176.14 L394.29,175.66 L394.39,175.18 L394.50,174.70 L394.62,174.21 L394.73,173.73 L394.85,173.24 L394.98,172.76 L395.12,172.27 L395.26,171.79 L395.42,171.31 L395.58,170.84 L395.76,170.37 L395.95,169.91 L396.15,169.46 L396.37,169.01 L396.60,168.58 L396.85,168.16 L397.10,167.76 L397.38,167.39 L397.67,167.04 L398.13,166.61 L398.62,166.32 L399.13,166.23 L399.62,166.35 L400.09,166.67 L400.51,167.14 L400.76,167.50 L401.00,167.90 L401.22,168.32 L401.43,168.76 L401.63,169.21 L401.81,169.67 L401.98,170.14 L402.14,170.62 L402.29,171.10 L402.43,171.60 L402.55,172.10 L402.67,172.61 L402.79,173.12 L402.89,173.65 L402.99,174.18 L403.09,174.71 L403.20,175.23 L403.35,175.65 L403.49,176.09 L403.63,176.53 L403.77,176.97 L403.90,177.43 L404.03,177.89 L404.16,178.35 L404.28,178.81 L404.40,179.28 L404.52,179.76 L404.64,180.23 L404.75,180.71 L404.86,181.19 L404.97,181.67 L405.08,182.16 L405.18,182.64 L405.29,183.12 L405.39,183.61 L405.49,184.10 L405.59,184.59 L405.69,185.07 L405.79,185.56 L405.89,186.05 L405.99,186.54 L406.09,187.03 L406.19,187.52 L406.29,188.01 L406.38,188.50 L406.48,188.99 L406.58,189.48 L406.68,189.97 L406.77,190.46 L406.87,190.95 L406.97,191.44 L407.07,191.93 L407.17,192.42 L407.27,192.91 L407.37,193.40 L407.47,193.89 L407.57,194.38 L407.67,194.87 L407.77,195.36 L407.87,195.85 L407.97,196.34 L408.07,196.83 L408.17,197.32 L408.27,197.81 L408.38,198.30 L408.48,198.79 L408.58,199.28 L408.68,199.76 L408.78,200.25 L408.88,200.74 L408.98,201.23 L409.09,201.72 L409.19,202.21 L409.29,202.70 L409.39,203.19 L409.48,203.68 L409.58,204.17 L409.68,204.66 L409.78,205.15 L409.87,205.64 L409.97,206.13 L410.07,206.62 L410.16,207.11 L410.25,207.60 L410.35,208.10 L410.44,208.59 L410.53,209.08 L410.63,209.57 L410.72,210.06 L410.81,210.55 L410.90,211.04 L410.99,211.53 L411.08,212.03 L411.17,212.52 L411.26,213.01 L411.35,213.50 L411.44,213.99 L411.52,214.49 L411.61,214.98 L411.70,215.47 L411.79,215.96 L411.88,216.45 L411.96,216.95 L412.05,217.44 L412.14,217.93 L412.23,218.42 L412.32,218.92 L412.40,219.41 L412.49,219.90 L412.58,220.39 L412.67,220.88 L412.75,221.38 L412.84,221.87 L412.93,222.36 L413.01,222.85 L413.10,223.35 L413.19,223.84 L413.28,224.33 L413.36,224.82 L413.45,225.31 L413.54,225.81 L413.63,226.30 L413.71,226.79 L413.80,227.28 L413.89,227.77 L413.98,228.27 L414.07,228.76 L414.16,229.25 L414.25,229.74 L414.34,230.23 L414.44,230.72 L414.53,231.21 L414.62,231.70 L414.72,232.19 L414.82,232.69 L414.92,233.17 L415.01,233.66 L415.11,234.15 L415.22,234.64 L415.32,235.13 L415.43,235.62 L415.53,236.11 L415.64,236.60 L415.75,237.08 L415.86,237.57 L415.97,238.06 L416.09,238.54 L416.20,239.03 L416.32,239.51 L416.44,240.00 L416.57,240.48 L416.69,240.96 L416.81,241.45 L416.94,241.93 L417.07,242.41 L417.20,242.89 L417.34,243.38 L417.47,243.86 L417.61,244.34 L417.75,244.82 L417.89,245.29 L418.03,245.77 L418.17,246.25 L418.32,246.73 L418.47,247.20 L418.62,247.68 L418.77,248.15 L418.93,248.63 L419.09,249.10 L419.25,249.57 L419.41,250.04 L419.57,250.51 L419.74,250.98 L419.91,251.45 L420.09,251.91 L420.26,252.38 L420.44,252.84 L420.63,253.30 L420.81,253.76 L421.00,254.22 L421.20,254.68 L421.39,255.13 L421.59,255.58 L421.80,256.03 L422.01,256.48 L422.22,256.93 L422.44,257.37 L422.67,257.81 L422.89,258.24 L423.11,258.69 L423.33,259.13 L423.56,259.57 L423.79,260.00 L424.03,260.43 L424.27,260.86 L424.52,261.28 L424.78,261.70 L425.04,262.12 L425.31,262.53 L425.59,262.93 L425.87,263.33 L426.16,263.73 L426.46,264.12 L426.76,264.50 L427.08,264.88 L427.40,265.25 L427.72,265.61 L428.06,265.97 L428.40,266.32 L428.75,266.66 L429.11,266.99 L429.47,267.31 L429.85,267.63 L430.23,267.93 L430.62,268.23 L431.01,268.52 L431.41,268.80 L431.82,269.07 L432.23,269.33 L432.65,269.58 L433.08,269.82 L433.51,270.05 L433.95,270.27 L434.39,270.48 L434.84,270.69 L435.29,270.88 L435.74,271.07 L436.20,271.25 L436.66,271.42 L437.13,271.58 L437.60,271.73 L438.07,271.88 L438.54,272.02 L439.02,272.16 L439.48,272.31 L439.95,272.47 L440.42,272.62 L440.89,272.76 L441.37,272.90 L441.84,273.03 L442.32,273.16 L442.80,273.28 L443.28,273.40 L443.76,273.52 L444.25,273.63 L444.73,273.74 L445.22,273.84 L445.70,273.94 L446.19,274.04 L446.68,274.14 L447.17,274.23 L447.66,274.32 L448.15,274.40 L448.64,274.49 L449.13,274.57 L449.62,274.65 L450.12,274.72 L450.61,274.80 L451.10,274.87 L451.60,274.94 L452.09,275.01 L452.59,275.07 L453.08,275.13 L453.58,275.20 L454.07,275.26 L454.57,275.31 L455.06,275.37 L455.56,275.42 L456.06,275.48 L456.55,275.53 L457.05,275.58 L457.55,275.63 L458.05,275.67 L458.54,275.72 L459.04,275.76 L459.54,275.81 L460.04,275.85 L460.54,275.89 L461.03,275.93 L461.53,275.96 L462.03,276.00 L462.53,276.04 L463.03,276.07 L463.53,276.11 L464.02,276.14 L464.52,276.17 L465.02,276.20 L465.52,276.23 L466.02,276.26 L466.52,276.29 L467.02,276.31 L467.52,276.34 L468.02,276.37 L468.52,276.39 L469.02,276.42 L469.51,276.44 L470.01,276.46 L470.51,276.48 L471.01,276.51 L471.51,276.53 L472.01,276.55 L472.51,276.57 L473.01,276.59 L473.51,276.60 L474.01,276.62 L474.51,276.64 L475.01,276.66 L475.51,276.67 L476.01,276.69 L476.51,276.71 L477.01,276.72 L477.51,276.74 L478.01,276.75 L478.51,276.76 L479.01,276.78 L479.51,276.79 L480.01,276.80 L480.51,276.82 L481.01,276.83 L481.51,276.84 L482.01,276.85 L482.51,276.86 L483.01,276.87 L483.51,276.88 L484.01,276.89 L484.51,276.90 L485.01,276.90 L485.51,276.91 L486.01,276.92 L486.50,276.92 L487.00,276.93 L487.50,276.94 L488.00,276.94 L488.50,276.95 L489.00,276.95 L489.50,276.96 L490.00,276.96 L490.50,276.97 L491.00,276.97 L491.50,276.97 L492.00,276.97 L492.50,276.98 L493.00,276.98 L493.50,276.98 L494.00,276.98 L494.50,276.98 L495.00,276.98 L495.50,276.98 L496.00,276.98 L496.50,276.98 L497.00,276.98 L497.50,276.98 L498.00,276.98 L498.50,276.98 L499.00,276.98 L499.50,276.98 L500.00,276.97 L500.50,276.97 L501.00,276.97 L501.50,276.96 L502.00,276.96 L502.50,276.95 L503.00,276.95 L503.50,276.94 L504.00,276.93 L504.50,276.93 L505.00,276.92 L505.50,276.91 L506.00,276.90 L506.50,276.89 L507.00,276.88 L507.50,276.87 L508.00,276.86 L508.50,276.85 L509.00,276.83 L509.50,276.82 L510.00,276.81 L510.50,276.79 L511.00,276.78 L511.50,276.76 L512.00,276.74 L512.50,276.73 L513.00,276.71 L513.50,276.69 L514.00,276.67 L514.50,276.65 L515.00,276.63 L515.50,276.61 L516.00,276.59 L516.50,276.57 L516.99,276.55 L517.49,276.53 L517.99,276.51 L518.49,276.48 L518.99,276.46 L519.49,276.44 L519.99,276.42 L520.49,276.39 L520.99,276.37 L521.49,276.34 L521.99,276.32 L522.49,276.29 L522.99,276.27 L523.49,276.24 L523.99,276.22 L524.49,276.19 L524.99,276.17 L525.48,276.14 L525.98,276.12 L526.48,276.09 L526.98,276.06 L527.48,276.04 L527.98,276.01 L528.48,275.98 L528.98,275.96 L529.48,275.93 L529.98,275.90 L530.48,275.87 L530.98,275.85 L531.48,275.82 L531.98,275.79 L532.47,275.76 L532.97,275.73 L533.47,275.71 L533.97,275.68 L534.47,275.65 L534.97,275.62 L535.47,275.59 L535.97,275.57 L536.47,275.54 L536.97,275.51 L537.47,275.48 L537.97,275.45 L538.46,275.42 L538.96,275.39 L539.46,275.36 L539.96,275.33 L540.46,275.30 L540.96,275.27 L541.46,275.25 L541.96,275.22 L542.46,275.19 L542.96,275.16 L543.46,275.12 L543.95,275.09 L544.45,275.06 L544.95,275.03 L545.45,275.00 L545.95,274.97 L546.45,274.94 L546.95,274.91 L547.45,274.88 L547.95,274.85 L548.45,274.81 L548.94,274.78 L549.44,274.75 L549.94,274.72 L550.44,274.68 L550.94,274.65 L551.44,274.62 L551.94,274.58 L552.44,274.55 L552.94,274.52 L553.43,274.48 L553.93,274.45 L554.43,274.41 L554.93,274.38 L555.43,274.34 L555.93,274.31 L556.43,274.27 L556.93,274.24 L557.42,274.20 L557.92,274.17 L558.42,274.13 L558.92,274.09 L559.42,274.06 L559.92,274.02 L560.42,273.98 L560.92,273.94 L561.41,273.91 L561.91,273.87 L562.41,273.83 L562.91,273.79 L563.41,273.75 L563.91,273.71 L564.40,273.67 L564.90,273.63 L565.40,273.59 L565.90,273.55 L566.40,273.51 L566.90,273.47 L567.40,273.43 L567.89,273.39 L568.39,273.35 L568.89,273.31 L569.39,273.27 L569.89,273.23 L570.39,273.19 L570.88,273.15 L571.38,273.10 L571.88,273.06 L572.38,273.02 L572.88,272.98 L573.37,272.94 L573.87,272.89 L574.37,272.85 L574.87,272.81 L575.37,272.77 L575.87,272.72 L576.36,272.68 L576.86,272.64 L577.36,272.60 L577.86,272.55 L578.36,272.51 L578.85,272.47 L579.35,272.42 L579.85,272.38 L580.35,272.34 L580.85,272.30 L581.35,272.25 L581.84,272.21 L582.34,272.17 L582.84,272.12 L583.34,272.08 L583.84,272.04 L584.33,271.99 L584.83,271.95 L585.33,271.91 L585.83,271.87 L586.33,271.82 L586.82,271.78 L587.32,271.74 L587.82,271.70 L588.32,271.65 L588.82,271.61 L589.32,271.57 L589.81,271.53 L590.31,271.48 L590.81,271.44 L591.31,271.40 L591.81,271.36 L592.31,271.32 L592.80,271.27 L593.30,271.23 L593.80,271.19 L594.30,271.15 L594.80,271.11 L595.29,271.07 L595.79,271.03 L596.29,270.99 L596.79,270.95 L597.29,270.91 L597.79,270.87 L598.28,270.83 L598.78,270.79 L599.28,270.75 L599.78,270.71 L600.28,270.67 L600.78,270.63 L601.28,270.59 L601.77,270.55 L602.27,270.51 L602.77,270.47 L603.27,270.43 L603.77,270.39 L604.27,270.35 L604.76,270.31 L605.26,270.27 L605.76,270.23 L606.26,270.19 L606.76,270.15 L607.26,270.12 L607.76,270.08 L608.25,270.04 L608.75,270.00 L609.25,269.96 L609.75,269.92 L610.25,269.88 L610.75,269.85 L611.25,269.81 L611.74,269.77 L612.24,269.73 L612.74,269.69 L613.24,269.66 L613.74,269.62 L614.24,269.58 L614.73,269.54 L615.23,269.50 L615.73,269.46 L616.23,269.43 L616.73,269.39 L617.23,269.35 L617.73,269.31 L618.22,269.28 L618.72,269.24 L619.22,269.20 L619.72,269.16 L620.22,269.12 L620.72,269.09 L621.22,269.05 L621.71,269.01 L622.21,268.97 L622.71,268.94 L623.21,268.90 L623.71,268.86 L624.21,268.83 L624.71,268.79 L625.21,268.75 L625.70,268.71 L626.20,268.68 L626.70,268.64 L627.20,268.60 L627.70,268.57 L628.20,268.53 L628.70,268.49 L629.19,268.45 L629.69,268.42 L630.19,268.38 L630.69,268.34 L631.19,268.31 L631.69,268.27 L632.19,268.23 L632.69,268.20 L633.18,268.16 L633.68,268.12 L634.18,268.09 L634.68,268.05 L635.18,268.01 L635.68,267.98 L636.18,267.94 L636.67,267.91 L637.17,267.87 L637.67,267.83 L638.17,267.80 L638.67,267.76 L639.16,267.72 L639.66,267.69 L640.16,267.65 L640.65,267.62 L641.15,267.58 L641.64,267.55 L642.14,267.51 L642.63,267.48 L643.12,267.44 L643.60,267.41 L644.09,267.37 L644.57,267.34 L645.05,267.30 L645.53,267.27 L646.00,267.23 L646.51,267.20 L647.01,267.16 L647.51,267.13 L648.02,267.09 L648.52,267.05 L649.02,267.02 L649.53,266.98 L650.03,266.95 L650.53,266.91 L651.04,266.88 L651.54,266.84 L652.04,266.80 L652.54,266.77 L653.04,266.73 L653.54,266.70 L654.04,266.66 L654.53,266.63 L655.02,266.60 L655.49,266.56 L656.13,266.52 L656.14,266.52" stroke="#000000"/>
<path d="M391.69,252.50 L391.95,252.06 L392.19,251.63 L392.41,251.18 L392.63,250.73 L392.84,250.28 L393.04,249.82 L393.24,249.36 L393.43,248.90 L393.61,248.44 L393.79,247.97 L393.96,247.50 L394.13,247.03 L394.29,246.56 L394.45,246.09 L394.61,245.61 L394.76,245.14 L394.91,244.66 L395.05,244.18 L395.20,243.70 L395.34,243.23 L395.48,242.75 L395.64,242.28 L395.80,241.81 L395.96,241.33 L396.11,240.86 L396.26,240.38 L396.41,239.91 L396.55,239.43 L396.70,238.95 L396.84,238.48 L396.98,238.00 L397.12,237.52 L397.25,237.04 L397.39,236.56 L397.52,236.08 L397.65,235.59 L397.78,235.11 L397.91,234.63 L398.04,234.15 L398.17,233.66 L398.30,233.18 L398.42,232.70 L398.55,232.21 L398.67,231.73 L398.79,231.24 L398.92,230.76 L399.04,230.28 L399.16,229.79 L399.28,229.31 L399.41,228.82 L399.53,228.34 L399.65,227.85 L399.77,227.37 L399.88,226.88 L400.00,226.40 L400.12,225.91 L400.24,225.42 L400.36,224.94 L400.47,224.45 L400.59,223.97 L400.70,223.48 L400.81,222.99 L400.93,222.51 L401.04,222.02 L401.15,221.53 L401.25,221.05 L401.36,220.56 L401.47,220.07 L401.57,219.58 L401.67,219.09 L401.77,218.60 L401.87,218.12 L401.97,217.63 L402.06,217.14 L402.16,216.65 L402.25,216.16 L402.33,215.66 L402.42,215.17 L402.51,214.68 L402.59,214.19 L402.67,213.70 L402.75,213.21 L402.83,212.71 L402.90,212.22 L402.98,211.73 L403.05,211.23 L403.12,210.74 L403.19,210.24 L403.26,209.75 L403.32,209.25 L403.39,208.76 L403.46,208.26 L403.52,207.77 L403.58,207.27 L403.65,206.78 L403.71,206.28 L403.78,205.79 L403.84,205.29 L403.90,204.80 L403.97,204.30 L404.03,203.81 L404.10,203.31 L404.16,202.82 L404.23,202.32 L404.30,201.83 L404.37,201.33 L404.44,200.84 L404.51,200.34 L404.58,199.85 L404.66,199.36 L404.73,198.86 L404.81,198.37 L404.89,197.88 L404.97,197.38 L405.05,196.89 L405.13,196.40 L405.22,195.91 L405.30,195.42 L405.39,194.93 L405.48,194.43 L405.57,193.94 L405.66,193.45 L405.75,192.96 L405.85,192.47 L405.94,191.98 L406.03,191.49 L406.13,191.00 L406.22,190.51 L406.32,190.02 L406.41,189.53 L406.51,189.04 L406.60,188.55 L406.70,188.06 L406.79,187.57 L406.88,187.08 L406.98,186.59 L407.07,186.10 L407.16,185.61 L407.25,185.11 L407.34,184.62 L407.43,184.13 L407.52,183.64 L407.61,183.15 L407.70,182.66 L407.79,182.17 L407.88,181.68 L407.97,181.18 L408.05,180.69 L408.14,180.20 L408.23,179.71 L408.32,179.22 L408.41,178.73 L408.50,178.24 L408.59,177.75 L408.68,177.26 L408.77,176.77 L408.87,176.28 L408.96,175.79 L409.06,175.30 L409.16,174.81 L409.26,174.33 L409.37,173.84 L409.47,173.36 L409.58,172.87 L409.70,172.39 L409.81,171.91 L409.93,171.43 L410.05,170.96 L410.18,170.48 L410.31,170.01 L410.45,169.54 L410.59,169.08 L410.73,168.61 L410.88,168.16 L411.03,167.70 L411.19,167.26 L411.32,166.77 L411.45,166.29 L411.58,165.80 L411.72,165.32 L411.86,164.84 L412.01,164.37 L412.16,163.90 L412.33,163.43 L412.50,162.96 L412.68,162.49 L412.86,162.04 L413.06,161.58 L413.27,161.13 L413.49,160.69 L413.72,160.26 L413.97,159.84 L414.23,159.43 L414.51,159.03 L414.80,158.65 L415.11,158.29 L415.43,157.95 L415.77,157.64 L416.30,157.25 L416.86,156.96 L417.44,156.82 L418.02,156.84 L418.59,157.01 L419.13,157.32 L419.65,157.74 L419.97,158.06 L420.28,158.41 L420.59,158.79 L420.88,159.17 L421.16,159.58 L421.42,159.99 L421.68,160.42 L421.93,160.85 L422.17,161.29 L422.40,161.74 L422.62,162.20 L422.84,162.67 L423.05,163.14 L423.26,163.61 L423.46,164.10 L423.66,164.59 L423.87,165.03 L424.11,165.43 L424.34,165.83 L424.57,166.25 L424.80,166.67 L425.02,167.09 L425.24,167.52 L425.45,167.95 L425.67,168.39 L425.88,168.83 L426.09,169.28 L426.29,169.72 L426.50,170.17 L426.70,170.62 L426.90,171.08 L427.10,171.53 L427.29,171.99 L427.49,172.44 L427.68,172.90 L427.87,173.36 L428.06,173.82 L428.25,174.29 L428.44,174.75 L428.62,175.21 L428.81,175.67 L428.99,176.14 L429.17,176.60 L429.35,177.07 L429.54,177.53 L429.71,178.00 L429.89,178.47 L430.07,178.93 L430.25,179.40 L430.43,179.87 L430.60,180.33 L430.78,180.80 L430.96,181.27 L431.13,181.74 L431.31,182.21 L431.48,182.67 L431.66,183.14 L431.83,183.61 L432.01,184.08 L432.19,184.54 L432.36,185.01 L432.54,185.48 L432.72,185.94 L432.89,186.41 L433.07,186.88 L433.25,187.34 L433.43,187.81 L433.61,188.28 L433.79,188.74 L433.98,189.21 L434.16,189.67 L434.34,190.14 L434.53,190.60 L434.71,191.06 L434.90,191.53 L435.08,191.99 L435.27,192.46 L435.45,192.92 L435.64,193.38 L435.83,193.85 L436.01,194.31 L436.20,194.77 L436.39,195.24 L436.57,195.70 L436.76,196.16 L436.95,196.63 L437.13,197.09 L437.32,197.55 L437.50,198.02 L437.69,198.48 L437.88,198.95 L438.06,199.41 L438.25,199.87 L438.44,200.34 L438.62,200.80 L438.81,201.26 L439.00,201.73 L439.19,202.19 L439.37,202.65 L439.56,203.11 L439.75,203.58 L439.94,204.04 L440.13,204.50 L440.32,204.96 L440.52,205.42 L440.71,205.88 L440.90,206.34 L441.10,206.80 L441.30,207.26 L441.49,207.72 L441.69,208.18 L441.89,208.64 L442.10,209.09 L442.30,209.55 L442.50,210.00 L442.71,210.46 L442.92,210.91 L443.13,211.37 L443.34,211.82 L443.55,212.27 L443.76,212.72 L443.98,213.18 L444.19,213.63 L444.41,214.08 L444.63,214.53 L444.85,214.97 L445.07,215.42 L445.29,215.87 L445.51,216.32 L445.73,216.76 L445.96,217.21 L446.18,217.66 L446.41,218.10 L446.64,218.55 L446.87,218.99 L447.10,219.44 L447.33,219.88 L447.56,220.32 L447.79,220.77 L448.02,221.21 L448.25,221.65 L448.48,222.10 L448.71,222.54 L448.95,222.98 L449.18,223.42 L449.41,223.87 L449.64,224.31 L449.88,224.75 L450.11,225.19 L450.34,225.63 L450.57,226.08 L450.81,226.52 L451.04,226.96 L451.27,227.40 L451.50,227.85 L451.74,228.29 L451.97,228.73 L452.20,229.17 L452.43,229.62 L452.66,230.06 L452.90,230.50 L453.13,230.94 L453.36,231.39 L453.59,231.83 L453.83,232.27 L454.06,232.71 L454.29,233.15 L454.53,233.59 L454.76,234.03 L455.00,234.47 L455.24,234.91 L455.47,235.35 L455.71,235.79 L455.95,236.23 L456.20,236.66 L456.44,237.10 L456.69,237.53 L456.93,237.97 L457.18,238.40 L457.43,238.83 L457.68,239.26 L457.94,239.69 L458.20,240.11 L458.46,240.54 L458.72,240.96 L458.98,241.39 L459.25,241.81 L459.52,242.23 L459.79,242.65 L460.06,243.06 L460.34,243.48 L460.62,243.89 L460.90,244.30 L461.18,244.71 L461.47,245.11 L461.76,245.52 L462.05,245.92 L462.35,246.32 L462.64,246.72 L462.95,247.12 L463.25,247.51 L463.55,247.90 L463.86,248.29 L464.18,248.68 L464.49,249.06 L464.81,249.45 L465.13,249.83 L465.45,250.20 L465.78,250.58 L466.11,250.95 L466.44,251.32 L466.77,251.69 L467.11,252.06 L467.45,252.42 L467.79,252.78 L468.14,253.14 L468.48,253.50 L468.83,253.85 L469.19,254.20 L469.54,254.55 L469.90,254.90 L470.26,255.24 L470.62,255.58 L470.98,255.92 L471.35,256.26 L471.72,256.59 L472.09,256.92 L472.46,257.25 L472.84,257.58 L473.22,257.90 L473.60,258.22 L473.98,258.54 L474.37,258.85 L474.75,259.17 L475.14,259.48 L475.53,259.78 L475.93,260.09 L476.32,260.39 L476.72,260.69 L477.12,260.99 L477.52,261.28 L477.92,261.57 L478.33,261.86 L478.74,262.15 L479.14,262.43 L479.56,262.71 L479.97,262.99 L480.38,263.26 L480.80,263.54 L481.22,263.80 L481.64,264.07 L482.06,264.34 L482.49,264.60 L482.91,264.86 L483.34,265.11 L483.77,265.37 L484.20,265.62 L484.63,265.87 L485.06,266.12 L485.49,266.36 L485.93,266.61 L486.37,266.85 L486.80,267.08 L487.24,267.32 L487.68,267.55 L488.13,267.79 L488.57,268.02 L489.01,268.24 L489.46,268.47 L489.90,268.69 L490.35,268.91 L490.80,269.13 L491.25,269.35 L491.70,269.56 L492.15,269.77 L492.60,269.98 L493.06,270.19 L493.51,270.39 L493.97,270.60 L494.43,270.80 L494.88,271.00 L495.34,271.19 L495.80,271.39 L496.26,271.58 L496.72,271.77 L497.18,271.96 L497.65,272.14 L498.11,272.32 L498.58,272.51 L499.04,272.68 L499.51,272.86 L499.98,273.03 L500.45,273.21 L500.91,273.37 L501.38,273.54 L501.86,273.71 L502.33,273.87 L502.80,274.03 L503.27,274.19 L503.75,274.34 L504.22,274.50 L504.70,274.65 L505.17,274.80 L505.65,274.94 L506.13,275.09 L506.61,275.23 L507.08,275.37 L507.56,275.51 L508.04,275.64 L508.52,275.78 L509.01,275.91 L509.49,276.04 L509.97,276.17 L510.45,276.29 L510.94,276.41 L511.42,276.54 L511.91,276.65 L512.39,276.77 L512.88,276.89 L513.36,277.00 L513.85,277.11 L514.34,277.22 L514.83,277.33 L515.31,277.43 L515.80,277.54 L516.29,277.64 L516.78,277.74 L517.27,277.84 L517.76,277.93 L518.25,278.03 L518.74,278.12 L519.23,278.21 L519.72,278.31 L520.21,278.40 L520.71,278.48 L521.20,278.57 L521.69,278.66 L522.18,278.74 L522.67,278.82 L523.17,278.91 L523.66,278.99 L524.15,279.07 L524.65,279.15 L525.14,279.23 L525.63,279.30 L526.13,279.38 L526.62,279.46 L527.12,279.53 L527.61,279.61 L528.11,279.68 L528.60,279.75 L529.09,279.82 L529.59,279.89 L530.08,279.96 L530.58,280.03 L531.07,280.10 L531.57,280.16 L532.07,280.23 L532.56,280.30 L533.06,280.36 L533.55,280.42 L534.05,280.48 L534.54,280.55 L535.04,280.61 L535.54,280.66 L536.03,280.72 L536.53,280.78 L537.03,280.84 L537.52,280.89 L538.02,280.94 L538.52,281.00 L539.01,281.05 L539.51,281.10 L540.01,281.15 L540.51,281.19 L541.00,281.24 L541.50,281.29 L542.00,281.33 L542.50,281.37 L542.99,281.42 L543.49,281.46 L543.99,281.50 L544.49,281.54 L544.99,281.57 L545.49,281.61 L545.98,281.65 L546.48,281.68 L546.98,281.72 L547.48,281.75 L547.98,281.78 L548.48,281.81 L548.98,281.84 L549.48,281.87 L549.98,281.90 L550.47,281.92 L550.97,281.95 L551.47,281.97 L551.97,282.00 L552.47,282.02 L552.97,282.04 L553.47,282.06 L553.97,282.08 L554.47,282.10 L554.97,282.12 L555.47,282.14 L555.97,282.16 L556.47,282.18 L556.97,282.19 L557.47,282.21 L557.97,282.23 L558.47,282.24 L558.97,282.25 L559.47,282.27 L559.96,282.28 L560.46,282.30 L560.96,282.31 L561.46,282.32 L561.96,282.33 L562.46,282.34 L562.96,282.35 L563.46,282.37 L563.96,282.38 L564.46,282.39 L564.96,282.40 L565.46,282.41 L565.96,282.42 L566.46,282.43 L566.96,282.43 L567.46,282.44 L567.96,282.45 L568.46,282.46 L568.96,282.47 L569.46,282.48 L569.96,282.49 L570.46,282.50 L570.96,282.50 L571.46,282.51 L571.96,282.52 L572.46,282.53 L572.96,282.53 L573.46,282.54 L573.96,282.55 L574.46,282.56 L574.96,282.56 L575.46,282.57 L575.96,282.58 L576.46,282.58 L576.96,282.59 L577.46,282.60 L577.96,282.60 L578.46,282.61 L578.96,282.61 L579.46,282.62 L579.96,282.63 L580.46,282.63 L580.96,282.64 L581.46,282.64 L581.96,282.65 L582.46,282.65 L582.96,282.66 L583.46,282.66 L583.96,282.67 L584.46,282.67 L584.96,282.68 L585.46,282.68 L585.96,282.69 L586.46,282.69 L586.96,282.70 L587.46,282.70 L587.96,282.71 L588.46,282.71 L588.96,282.72 L589.46,282.72 L589.96,282.72 L590.46,282.73 L590.96,282.73 L591.46,282.74 L591.96,282.74 L592.46,282.74 L592.96,282.75 L593.46,282.75 L593.96,282.76 L594.46,282.76 L594.96,282.76 L595.46,282.77 L595.96,282.77 L596.46,282.77 L596.96,282.78 L597.46,282.78 L597.96,282.78 L598.46,282.79 L598.96,282.79 L599.46,282.79 L599.96,282.80 L600.46,282.80 L600.96,282.80 L601.46,282.81 L601.96,282.81 L602.46,282.81 L602.96,282.81 L603.46,282.82 L603.96,282.82 L604.46,282.82 L604.96,282.83 L605.46,282.83 L605.96,282.83 L606.46,282.83 L606.96,282.84 L607.46,282.84 L607.96,282.84 L608.46,282.85 L608.96,282.85 L609.46,282.85 L609.96,282.85 L610.46,282.86 L610.96,282.86 L611.46,282.86 L611.96,282.86 L612.46,282.87 L612.96,282.87 L613.46,282.87 L613.96,282.87 L614.46,282.88 L614.96,282.88 L615.46,282.88 L615.96,282.88 L616.46,282.89 L616.96,282.89 L617.46,282.89 L617.96,282.89 L618.46,282.90 L618.96,282.90 L619.46,282.90 L619.96,282.90 L620.46,282.91 L620.96,282.91 L621.46,282.91 L621.96,282.91 L622.46,282.91 L622.96,282.92 L623.46,282.92 L623.96,282.92 L624.46,282.92 L624.96,282.92 L625.46,282.93 L625.96,282.93 L626.46,282.93 L626.96,282.93 L627.46,282.94 L627.96,282.94 L628.46,282.94 L628.96,282.94 L629.46,282.94 L629.96,282.94 L630.46,282.95 L630.96,282.95 L631.46,282.95 L631.96,282.95 L632.46,282.95 L632.96,282.95 L633.46,282.96 L633.96,282.96 L634.46,282.96 L634.96,282.96 L635.46,282.96 L635.96,282.96 L636.46,282.97 L636.96,282.97 L637.46,282.97 L637.96,282.97 L638.46,282.97 L638.96,282.97 L639.46,282.97 L639.96,282.98 L640.46,282.98 L640.96,282.98 L641.46,282.98 L641.95,282.98 L642.45,282.98 L642.95,282.98 L643.45,282.98 L643.94,282.98 L644.44,282.98 L644.93,282.99 L645.43,282.99 L645.92,282.99 L646.42,282.99 L646.92,282.99 L647.42,282.99 L647.93,282.99 L648.43,282.99 L648.93,282.99 L649.43,282.99 L649.93,282.99 L650.43,283.00 L650.93,283.00 L651.43,283.00 L651.93,283.00 L652.44,283.00 L652.94,283.00 L653.44,283.00 L653.94,283.00 L654.43,283.00 L654.93,283.00 L655.43,283.00 L655.91,283.00 L656.32,283.00" stroke="#ff0000"/>
<path d="M391.80,283.50 L392.28,283.37 L392.76,283.23 L393.24,283.09 L393.72,282.95 L394.20,282.81 L394.68,282.67 L395.16,282.52 L395.64,282.37 L396.11,282.21 L396.58,282.05 L397.06,281.89 L397.53,281.72 L397.99,281.55 L398.46,281.37 L398.93,281.19 L399.39,281.01 L399.85,280.82 L400.31,280.63 L400.77,280.43 L401.23,280.23 L401.69,280.04 L402.15,279.86 L402.62,279.67 L403.08,279.49 L403.54,279.30 L404.00,279.11 L404.46,278.91 L404.92,278.72 L405.38,278.52 L405.84,278.32 L406.29,278.12 L406.75,277.92 L407.21,277.72 L407.66,277.51 L408.12,277.30 L408.57,277.10 L409.02,276.89 L409.48,276.68 L409.93,276.47 L410.38,276.26 L410.84,276.05 L411.29,275.84 L411.74,275.63 L412.19,275.41 L412.65,275.20 L413.10,274.99 L413.55,274.78 L414.01,274.57 L414.46,274.36 L414.91,274.15 L415.37,273.95 L415.82,273.74 L416.28,273.53 L416.73,273.33 L417.19,273.13 L417.65,272.92 L418.10,272.73 L418.56,272.53 L419.02,272.33 L419.48,272.14 L419.94,271.95 L420.40,271.76 L420.86,271.57 L421.33,271.39 L421.79,271.20 L422.25,271.03 L422.72,270.85 L423.19,270.68 L423.65,270.51 L424.12,270.34 L424.59,270.17 L425.06,270.01 L425.54,269.86 L426.01,269.70 L426.48,269.55 L426.96,269.40 L427.43,269.26 L427.91,269.12 L428.39,268.99 L428.87,268.85 L429.35,268.73 L429.83,268.60 L430.31,268.48 L430.79,268.37 L431.27,268.26 L431.76,268.15 L432.24,268.05 L432.73,267.95 L433.22,267.86 L433.70,267.77 L434.19,267.69 L434.68,267.61 L435.17,267.53 L435.66,267.46 L436.15,267.40 L436.64,267.34 L437.14,267.28 L437.63,267.23 L438.12,267.19 L438.62,267.14 L439.11,267.11 L439.60,267.08 L440.10,267.05 L440.59,267.03 L441.09,267.01 L441.58,267.00 L442.08,266.99 L442.58,266.99 L443.07,266.99 L443.57,266.99 L444.06,267.00 L444.56,267.02 L445.06,267.03 L445.55,267.06 L446.05,267.08 L446.54,267.11 L447.04,267.14 L447.54,267.18 L448.03,267.22 L448.53,267.26 L449.02,267.31 L449.52,267.36 L450.01,267.41 L450.51,267.46 L451.00,267.52 L451.50,267.58 L451.99,267.64 L452.49,267.71 L452.98,267.77 L453.48,267.84 L453.97,267.91 L454.47,267.98 L454.96,268.05 L455.45,268.12 L455.95,268.19 L456.44,268.27 L456.94,268.34 L457.43,268.42 L457.92,268.50 L458.42,268.57 L458.91,268.65 L459.40,268.73 L459.90,268.81 L460.39,268.89 L460.89,268.96 L461.38,269.04 L461.87,269.12 L462.37,269.20 L462.86,269.27 L463.35,269.35 L463.85,269.43 L464.34,269.51 L464.84,269.58 L465.33,269.66 L465.82,269.73 L466.32,269.81 L466.81,269.88 L467.31,269.96 L467.80,270.03 L468.30,270.10 L468.79,270.17 L469.29,270.25 L469.78,270.32 L470.28,270.39 L470.77,270.46 L471.27,270.53 L471.76,270.60 L472.26,270.66 L472.75,270.73 L473.25,270.80 L473.74,270.87 L474.24,270.93 L474.73,271.00 L475.23,271.07 L475.72,271.13 L476.22,271.20 L476.72,271.27 L477.21,271.33 L477.71,271.40 L478.20,271.46 L478.70,271.53 L479.19,271.59 L479.69,271.66 L480.19,271.72 L480.68,271.79 L481.18,271.86 L481.67,271.92 L482.17,271.99 L482.66,272.06 L483.16,272.12 L483.65,272.19 L484.15,272.26 L484.64,272.33 L485.14,272.40 L485.63,272.47 L486.13,272.54 L486.62,272.61 L487.12,272.68 L487.61,272.76 L488.11,272.83 L488.60,272.90 L489.09,272.98 L489.59,273.06 L490.08,273.13 L490.58,273.21 L491.07,273.29 L491.56,273.37 L492.06,273.45 L492.55,273.53 L493.04,273.61 L493.54,273.69 L494.03,273.77 L494.52,273.86 L495.02,273.94 L495.51,274.03 L496.00,274.11 L496.49,274.20 L496.99,274.28 L497.48,274.37 L497.97,274.46 L498.46,274.55 L498.95,274.63 L499.45,274.72 L499.94,274.81 L500.43,274.90 L500.92,274.99 L501.41,275.08 L501.91,275.17 L502.40,275.26 L502.89,275.34 L503.38,275.43 L503.87,275.52 L504.37,275.61 L504.86,275.70 L505.35,275.79 L505.84,275.88 L506.33,275.96 L506.83,276.05 L507.32,276.14 L507.81,276.22 L508.30,276.31 L508.80,276.39 L509.29,276.48 L509.78,276.56 L510.28,276.64 L510.77,276.72 L511.26,276.80 L511.76,276.88 L512.25,276.96 L512.74,277.04 L513.24,277.11 L513.73,277.19 L514.22,277.26 L514.72,277.33 L515.21,277.41 L515.71,277.48 L516.20,277.55 L516.70,277.62 L517.19,277.68 L517.69,277.75 L518.18,277.82 L518.68,277.88 L519.18,277.94 L519.67,278.01 L520.17,278.07 L520.66,278.13 L521.16,278.19 L521.66,278.25 L522.15,278.30 L522.65,278.36 L523.15,278.42 L523.64,278.47 L524.14,278.52 L524.64,278.58 L525.13,278.63 L525.63,278.68 L526.13,278.73 L526.63,278.79 L527.12,278.84 L527.62,278.88 L528.12,278.93 L528.62,278.98 L529.11,279.03 L529.61,279.08 L530.11,279.12 L530.61,279.17 L531.10,279.21 L531.60,279.26 L532.10,279.30 L532.60,279.35 L533.10,279.39 L533.59,279.43 L534.09,279.47 L534.59,279.52 L535.09,279.56 L535.59,279.60 L536.09,279.64 L536.58,279.68 L537.08,279.72 L537.58,279.76 L538.08,279.79 L538.58,279.83 L539.08,279.87 L539.58,279.91 L540.07,279.94 L540.57,279.98 L541.07,280.02 L541.57,280.05 L542.07,280.09 L542.57,280.12 L543.07,280.15 L543.56,280.19 L544.06,280.22 L544.56,280.26 L545.06,280.29 L545.56,280.32 L546.06,280.35 L546.56,280.39 L547.06,280.42 L547.56,280.45 L548.06,280.48 L548.55,280.51 L549.05,280.54 L549.55,280.57 L550.05,280.60 L550.55,280.63 L551.05,280.66 L551.55,280.69 L552.05,280.72 L552.55,280.75 L553.05,280.77 L553.55,280.80 L554.04,280.83 L554.54,280.86 L555.04,280.88 L555.54,280.91 L556.04,280.94 L556.54,280.97 L557.04,280.99 L557.54,281.02 L558.04,281.04 L558.54,281.07 L559.04,281.10 L559.54,281.12 L560.04,281.15 L560.54,281.17 L561.04,281.20 L561.53,281.22 L562.03,281.24 L562.53,281.27 L563.03,281.29 L563.53,281.32 L564.03,281.34 L564.53,281.36 L565.03,281.38 L565.53,281.41 L566.03,281.43 L566.53,281.45 L567.03,281.47 L567.53,281.49 L568.03,281.51 L568.53,281.53 L569.03,281.55 L569.53,281.57 L570.03,281.59 L570.53,281.61 L571.03,281.63 L571.52,281.65 L572.02,281.67 L572.52,281.69 L573.02,281.70 L573.52,281.72 L574.02,281.74 L574.52,281.75 L575.02,281.77 L575.52,281.79 L576.02,281.80 L576.52,281.82 L577.02,281.83 L577.52,281.85 L578.02,281.86 L578.52,281.88 L579.02,281.89 L579.52,281.90 L580.02,281.92 L580.52,281.93 L581.02,281.94 L581.52,281.96 L582.02,281.97 L582.52,281.98 L583.02,281.99 L583.52,282.00 L584.02,282.02 L584.52,282.03 L585.02,282.04 L585.52,282.05 L586.02,282.06 L586.52,282.07 L587.02,282.08 L587.52,282.09 L588.02,282.10 L588.52,282.11 L589.02,282.12 L589.52,282.13 L590.02,282.14 L590.52,282.15 L591.02,282.16 L591.52,282.17 L592.02,282.18 L592.52,282.18 L593.02,282.19 L593.52,282.20 L594.02,282.21 L594.52,282.21 L595.02,282.22 L595.52,282.23 L596.02,282.24 L596.52,282.24 L597.02,282.25 L597.52,282.26 L598.02,282.26 L598.52,282.27 L599.02,282.28 L599.52,282.28 L600.02,282.29 L600.52,282.29 L601.02,282.30 L601.52,282.30 L602.02,282.31 L602.52,282.31 L603.02,282.32 L603.52,282.32 L604.02,282.33 L604.52,282.33 L605.02,282.34 L605.52,282.34 L606.02,282.35 L606.52,282.35 L607.02,282.36 L607.52,282.36 L608.02,282.37 L608.52,282.37 L609.02,282.37 L609.52,282.38 L610.02,282.38 L610.52,282.39 L611.02,282.39 L611.52,282.40 L612.02,282.40 L612.52,282.40 L613.02,282.41 L613.52,282.41 L614.02,282.42 L614.52,282.42 L615.02,282.42 L615.52,282.43 L616.02,282.43 L616.52,282.43 L617.02,282.44 L617.52,282.44 L618.02,282.44 L618.52,282.45 L619.02,282.45 L619.52,282.46 L620.02,282.46 L620.52,282.46 L621.02,282.47 L621.52,282.47 L622.02,282.47 L622.52,282.48 L623.02,282.48 L623.52,282.48 L624.02,282.49 L624.52,282.49 L625.02,282.49 L625.52,282.49 L626.02,282.50 L626.52,282.50 L627.02,282.50 L627.52,282.51 L628.02,282.51 L628.52,282.51 L629.02,282.51 L629.52,282.52 L630.02,282.52 L630.52,282.52 L631.02,282.53 L631.52,282.53 L632.02,282.53 L632.52,282.53 L633.02,282.54 L633.52,282.54 L634.02,282.54 L634.52,282.54 L635.02,282.54 L635.52,282.55 L636.02,282.55 L636.52,282.55 L637.02,282.55 L637.52,282.56 L638.01,282.56 L638.51,282.56 L639.01,282.56 L639.51,282.56 L640.01,282.56 L640.51,282.57 L641.01,282.57 L641.51,282.57 L642.00,282.57 L642.50,282.57 L643.00,282.57 L643.49,282.58 L643.98,282.58 L644.47,282.58 L644.97,282.58 L645.45,282.58 L645.94,282.58 L646.44,282.58 L646.94,282.59 L647.45,282.59 L647.95,282.59 L648.45,282.59 L648.95,282.59 L649.46,282.59 L649.96,282.59 L650.46,282.59 L650.96,282.59 L651.46,282.60 L651.97,282.60 L652.47,282.60 L652.97,282.60 L653.47,282.60 L653.97,282.60 L654.47,282.60 L654.96,282.60 L655.45,282.60 L655.92,282.60 L656.26,282.60" stroke="#0000ff"/>
<path d="M391.69,283.49 L392.05,283.14 L392.38,282.77 L392.71,282.39 L393.03,282.01 L393.33,281.61 L393.63,281.21 L393.92,280.81 L394.20,280.40 L394.48,279.98 L394.76,279.57 L395.02,279.14 L395.28,278.72 L395.54,278.29 L395.79,277.86 L396.04,277.43 L396.28,276.99 L396.51,276.55 L396.74,276.11 L396.97,275.67 L397.19,275.22 L397.42,274.78 L397.67,274.35 L397.91,273.92 L398.15,273.48 L398.38,273.04 L398.61,272.61 L398.84,272.16 L399.06,271.72 L399.28,271.28 L399.50,270.83 L399.71,270.38 L399.92,269.93 L400.13,269.48 L400.33,269.02 L400.53,268.57 L400.72,268.11 L400.92,267.65 L401.11,267.19 L401.29,266.73 L401.48,266.27 L401.66,265.80 L401.84,265.34 L402.01,264.87 L402.19,264.40 L402.36,263.94 L402.53,263.47 L402.69,263.00 L402.86,262.53 L403.02,262.05 L403.18,261.58 L403.34,261.11 L403.49,260.63 L403.65,260.16 L403.80,259.68 L403.95,259.21 L404.10,258.73 L404.25,258.25 L404.39,257.78 L404.54,257.30 L404.68,256.82 L404.82,256.34 L404.96,255.86 L405.10,255.38 L405.24,254.90 L405.38,254.42 L405.52,253.94 L405.65,253.46 L405.79,252.98 L405.92,252.50 L406.05,252.02 L406.19,251.53 L406.32,251.05 L406.45,250.57 L406.58,250.09 L406.71,249.60 L406.84,249.12 L406.97,248.64 L407.10,248.16 L407.23,247.67 L407.36,247.19 L407.48,246.71 L407.61,246.22 L407.74,245.74 L407.87,245.26 L407.99,244.77 L408.12,244.29 L408.24,243.80 L408.37,243.32 L408.49,242.84 L408.62,242.35 L408.74,241.87 L408.87,241.38 L408.99,240.90 L409.11,240.41 L409.24,239.93 L409.36,239.45 L409.48,238.96 L409.61,238.48 L409.73,237.99 L409.85,237.51 L409.97,237.02 L410.09,236.54 L410.21,236.05 L410.33,235.57 L410.45,235.08 L410.57,234.60 L410.69,234.11 L410.81,233.62 L410.93,233.14 L411.04,232.65 L411.16,232.17 L411.27,231.68 L411.39,231.19 L411.50,230.71 L411.61,230.22 L411.72,229.73 L411.83,229.24 L411.94,228.76 L412.05,228.27 L412.16,227.78 L412.26,227.29 L412.37,226.80 L412.47,226.32 L412.57,225.83 L412.67,225.34 L412.77,224.85 L412.87,224.36 L412.97,223.87 L413.07,223.38 L413.16,222.89 L413.26,222.40 L413.35,221.91 L413.44,221.41 L413.53,220.92 L413.62,220.43 L413.71,219.94 L413.80,219.45 L413.89,218.96 L413.98,218.47 L414.07,217.97 L414.16,217.48 L414.25,216.99 L414.34,216.50 L414.42,216.01 L414.51,215.51 L414.60,215.02 L414.69,214.53 L414.78,214.04 L414.87,213.55 L414.96,213.06 L415.05,212.56 L415.14,212.07 L415.24,211.58 L415.33,211.09 L415.42,210.60 L415.52,210.11 L415.62,209.62 L415.71,209.13 L415.81,208.64 L415.91,208.15 L416.01,207.66 L416.11,207.17 L416.22,206.68 L416.32,206.19 L416.43,205.70 L416.53,205.22 L416.64,204.73 L416.75,204.24 L416.86,203.75 L416.97,203.27 L417.08,202.78 L417.19,202.29 L417.30,201.80 L417.41,201.32 L417.53,200.83 L417.64,200.34 L417.76,199.86 L417.87,199.37 L417.99,198.89 L418.11,198.40 L418.22,197.91 L418.34,197.43 L418.46,196.94 L418.58,196.46 L418.70,195.97 L418.82,195.48 L418.93,195.00 L419.05,194.51 L419.17,194.03 L419.29,193.54 L419.41,193.06 L419.52,192.57 L419.64,192.08 L419.76,191.60 L419.88,191.11 L419.99,190.63 L420.11,190.14 L420.23,189.65 L420.34,189.17 L420.46,188.68 L420.57,188.19 L420.68,187.71 L420.80,187.22 L420.91,186.73 L421.02,186.25 L421.13,185.76 L421.24,185.27 L421.35,184.78 L421.46,184.30 L421.57,183.81 L421.68,183.32 L421.79,182.83 L421.89,182.34 L422.00,181.85 L422.11,181.37 L422.21,180.88 L422.32,180.39 L422.42,179.90 L422.53,179.41 L422.63,178.92 L422.73,178.43 L422.84,177.94 L422.94,177.45 L423.04,176.96 L423.14,176.47 L423.24,175.99 L423.34,175.50 L423.44,175.01 L423.54,174.52 L423.64,174.03 L423.74,173.54 L423.84,173.05 L423.94,172.56 L424.04,172.07 L424.14,171.58 L424.24,171.09 L424.34,170.60 L424.44,170.11 L424.54,169.62 L424.64,169.13 L424.74,168.64 L424.84,168.15 L424.93,167.66 L425.03,167.17 L425.13,166.68 L425.23,166.19 L425.33,165.70 L425.43,165.21 L425.53,164.72 L425.63,164.23 L425.73,163.74 L425.83,163.25 L425.93,162.76 L426.03,162.27 L426.13,161.78 L426.23,161.29 L426.34,160.80 L426.44,160.31 L426.54,159.82 L426.64,159.33 L426.74,158.84 L426.85,158.35 L426.95,157.86 L427.06,157.37 L427.16,156.88 L427.27,156.40 L427.37,155.91 L427.48,155.42 L427.59,154.93 L427.69,154.44 L427.80,153.95 L427.91,153.47 L428.02,152.98 L428.13,152.49 L428.24,152.00 L428.35,151.52 L428.47,151.03 L428.58,150.54 L428.69,150.06 L428.81,149.57 L428.92,149.08 L429.04,148.60 L429.15,148.11 L429.27,147.62 L429.39,147.14 L429.50,146.65 L429.62,146.17 L429.74,145.68 L429.86,145.19 L429.97,144.71 L430.09,144.22 L430.21,143.74 L430.33,143.25 L430.45,142.77 L430.57,142.28 L430.68,141.79 L430.80,141.31 L430.92,140.82 L431.04,140.34 L431.16,139.85 L431.27,139.37 L431.39,138.88 L431.51,138.39 L431.62,137.91 L431.74,137.42 L431.86,136.93 L431.97,136.45 L432.09,135.96 L432.20,135.48 L432.32,134.99 L432.44,134.50 L432.55,134.02 L432.67,133.53 L432.79,133.05 L432.90,132.56 L433.02,132.07 L433.14,131.59 L433.26,131.10 L433.38,130.62 L433.49,130.13 L433.62,129.65 L433.74,129.16 L433.86,128.68 L433.98,128.19 L434.11,127.71 L434.23,127.23 L434.36,126.74 L434.49,126.26 L434.62,125.78 L434.75,125.30 L434.88,124.82 L435.02,124.33 L435.15,123.85 L435.29,123.37 L435.43,122.89 L435.57,122.41 L435.71,121.94 L435.85,121.46 L435.99,120.98 L436.14,120.50 L436.29,120.02 L436.44,119.55 L436.59,119.07 L436.74,118.59 L436.89,118.12 L437.04,117.64 L437.20,117.17 L437.35,116.69 L437.51,116.22 L437.66,115.74 L437.82,115.27 L437.98,114.79 L438.14,114.32 L438.29,113.85 L438.45,113.37 L438.61,112.90 L438.77,112.43 L438.93,111.95 L439.09,111.48 L439.25,111.00 L439.41,110.53 L439.57,110.06 L439.73,109.58 L439.89,109.11 L440.05,108.64 L440.21,108.16 L440.37,107.69 L440.53,107.21 L440.69,106.74 L440.84,106.27 L441.00,105.79 L441.16,105.32 L441.32,104.84 L441.48,104.37 L441.64,103.90 L441.80,103.42 L441.96,102.95 L442.12,102.47 L442.28,102.00 L442.44,101.53 L442.60,101.05 L442.76,100.58 L442.92,100.11 L443.08,99.63 L443.24,99.16 L443.40,98.69 L443.57,98.21 L443.73,97.74 L443.89,97.27 L444.06,96.80 L444.23,96.33 L444.39,95.86 L444.56,95.39 L444.73,94.92 L444.91,94.45 L445.08,93.98 L445.25,93.51 L445.43,93.05 L445.61,92.58 L445.78,92.11 L445.96,91.65 L446.15,91.18 L446.33,90.72 L446.52,90.25 L446.70,89.79 L446.89,89.33 L447.08,88.87 L447.28,88.41 L447.47,87.95 L447.67,87.49 L447.87,87.03 L448.07,86.58 L448.28,86.12 L448.48,85.67 L448.69,85.21 L448.90,84.76 L449.11,84.31 L449.32,83.86 L449.54,83.41 L449.76,82.96 L449.98,82.51 L450.20,82.07 L450.42,81.62 L450.65,81.17 L450.87,80.73 L451.10,80.29 L451.33,79.84 L451.57,79.40 L451.80,78.96 L452.03,78.52 L452.27,78.08 L452.51,77.64 L452.74,77.20 L452.98,76.76 L453.22,76.33 L453.47,75.89 L453.71,75.45 L453.95,75.01 L454.19,74.58 L454.44,74.14 L454.68,73.71 L454.93,73.27 L455.18,72.84 L455.42,72.41 L455.67,71.97 L455.92,71.54 L456.17,71.11 L456.42,70.68 L456.67,70.24 L456.93,69.81 L457.18,69.38 L457.44,68.96 L457.69,68.53 L457.95,68.10 L458.21,67.67 L458.47,67.25 L458.73,66.83 L459.00,66.40 L459.26,65.98 L459.53,65.56 L459.80,65.14 L460.07,64.73 L460.35,64.31 L460.63,63.90 L460.91,63.49 L461.19,63.08 L461.48,62.67 L461.76,62.27 L462.06,61.87 L462.35,61.46 L462.65,61.07 L462.95,60.67 L463.25,60.28 L463.56,59.89 L463.87,59.50 L464.18,59.12 L464.50,58.73 L464.82,58.35 L465.14,57.98 L465.46,57.60 L465.79,57.23 L466.13,56.86 L466.46,56.50 L466.80,56.13 L467.14,55.77 L467.49,55.42 L467.83,55.06 L468.18,54.71 L468.54,54.36 L468.89,54.01 L469.25,53.67 L469.61,53.33 L469.97,52.99 L470.34,52.65 L470.71,52.32 L471.08,51.99 L471.45,51.66 L471.83,51.33 L472.20,51.01 L472.58,50.68 L472.96,50.36 L473.35,50.05 L473.73,49.73 L474.12,49.42 L474.51,49.11 L474.90,48.81 L475.29,48.50 L475.69,48.20 L476.08,47.90 L476.48,47.61 L476.89,47.32 L477.29,47.03 L477.70,46.74 L478.10,46.46 L478.51,46.18 L478.93,45.91 L479.34,45.64 L479.76,45.37 L480.18,45.11 L480.60,44.85 L481.03,44.59 L481.45,44.34 L481.88,44.09 L482.31,43.85 L482.75,43.62 L483.18,43.39 L483.62,43.16 L484.06,42.93 L484.51,42.71 L484.95,42.50 L485.40,42.29 L485.85,42.08 L486.30,41.88 L486.76,41.68 L487.21,41.48 L487.67,41.29 L488.13,41.11 L488.59,40.93 L489.05,40.75 L489.52,40.57 L489.99,40.40 L490.45,40.24 L490.92,40.07 L491.39,39.91 L491.86,39.76 L492.34,39.60 L492.81,39.46 L493.29,39.31 L493.76,39.17 L494.24,39.03 L494.72,38.89 L495.20,38.76 L495.68,38.63 L496.16,38.50 L496.64,38.37 L497.13,38.25 L497.61,38.13 L498.10,38.02 L498.58,37.90 L499.07,37.79 L499.55,37.69 L500.04,37.58 L500.53,37.48 L501.02,37.38 L501.51,37.28 L501.99,37.18 L502.48,37.09 L502.98,37.00 L503.47,36.91 L503.96,36.83 L504.45,36.75 L504.94,36.67 L505.43,36.59 L505.93,36.51 L506.42,36.44 L506.91,36.37 L507.41,36.30 L507.90,36.24 L508.40,36.18 L508.89,36.12 L509.39,36.06 L509.88,36.00 L510.38,35.95 L510.87,35.90 L511.37,35.85 L511.87,35.80 L512.36,35.76 L512.86,35.72 L513.36,35.68 L513.86,35.64 L514.36,35.61 L514.85,35.57 L515.35,35.54 L515.85,35.51 L516.35,35.49 L516.85,35.46 L517.35,35.44 L517.84,35.42 L518.34,35.40 L518.84,35.38 L519.34,35.36 L519.84,35.34 L520.34,35.33 L520.84,35.32 L521.34,35.31 L521.84,35.30 L522.34,35.29 L522.84,35.28 L523.34,35.27 L523.84,35.27 L524.34,35.26 L524.84,35.26 L525.34,35.26 L525.84,35.26 L526.34,35.26 L526.83,35.26 L527.33,35.26 L527.83,35.26 L528.33,35.26 L528.83,35.27 L529.33,35.27 L529.83,35.28 L530.33,35.29 L530.83,35.30 L531.33,35.31 L531.83,35.32 L532.33,35.33 L532.83,35.34 L533.33,35.36 L533.83,35.37 L534.33,35.39 L534.83,35.40 L535.33,35.42 L535.83,35.44 L536.33,35.46 L536.83,35.48 L537.33,35.51 L537.82,35.53 L538.32,35.55 L538.82,35.58 L539.32,35.61 L539.82,35.63 L540.32,35.66 L540.82,35.69 L541.32,35.72 L541.82,35.75 L542.32,35.78 L542.81,35.81 L543.31,35.85 L543.81,35.88 L544.31,35.91 L544.81,35.95 L545.31,35.98 L545.81,36.01 L546.31,36.05 L546.80,36.08 L547.30,36.12 L547.80,36.16 L548.30,36.19 L548.80,36.23 L549.30,36.27 L549.80,36.31 L550.29,36.34 L550.79,36.38 L551.29,36.42 L551.79,36.46 L552.29,36.50 L552.79,36.54 L553.28,36.58 L553.78,36.62 L554.28,36.67 L554.78,36.71 L555.28,36.75 L555.77,36.80 L556.27,36.84 L556.77,36.89 L557.27,36.93 L557.77,36.98 L558.26,37.03 L558.76,37.08 L559.26,37.13 L559.76,37.18 L560.25,37.23 L560.75,37.28 L561.25,37.33 L561.74,37.38 L562.24,37.44 L562.74,37.49 L563.23,37.55 L563.73,37.61 L564.23,37.66 L564.72,37.72 L565.22,37.78 L565.72,37.84 L566.21,37.90 L566.71,37.96 L567.21,38.02 L567.70,38.08 L568.20,38.14 L568.69,38.20 L569.19,38.27 L569.69,38.33 L570.18,38.39 L570.68,38.46 L571.17,38.52 L571.67,38.58 L572.17,38.65 L572.66,38.71 L573.16,38.78 L573.65,38.84 L574.15,38.90 L574.64,38.97 L575.14,39.03 L575.64,39.10 L576.13,39.16 L576.63,39.23 L577.12,39.29 L577.62,39.36 L578.12,39.42 L578.61,39.49 L579.11,39.55 L579.60,39.62 L580.10,39.68 L580.59,39.75 L581.09,39.81 L581.59,39.87 L582.08,39.94 L582.58,40.00 L583.07,40.07 L583.57,40.13 L584.07,40.19 L584.56,40.26 L585.06,40.32 L585.55,40.38 L586.05,40.45 L586.55,40.51 L587.04,40.57 L587.54,40.64 L588.03,40.70 L588.53,40.76 L589.03,40.82 L589.52,40.88 L590.02,40.95 L590.51,41.01 L591.01,41.07 L591.51,41.13 L592.00,41.19 L592.50,41.25 L593.00,41.31 L593.49,41.37 L593.99,41.43 L594.48,41.50 L594.98,41.56 L595.48,41.62 L595.97,41.68 L596.47,41.74 L596.97,41.79 L597.46,41.85 L597.96,41.91 L598.46,41.97 L598.95,42.03 L599.45,42.09 L599.95,42.15 L600.44,42.21 L600.94,42.27 L601.43,42.33 L601.93,42.39 L602.43,42.45 L602.92,42.50 L603.42,42.56 L603.92,42.62 L604.41,42.68 L604.91,42.74 L605.41,42.80 L605.90,42.86 L606.40,42.92 L606.90,42.98 L607.39,43.03 L607.89,43.09 L608.39,43.15 L608.88,43.21 L609.38,43.27 L609.88,43.33 L610.37,43.39 L610.87,43.45 L611.36,43.51 L611.86,43.57 L612.36,43.63 L612.85,43.69 L613.35,43.75 L613.85,43.81 L614.34,43.87 L614.84,43.93 L615.34,43.99 L615.83,44.05 L616.33,44.11 L616.83,44.17 L617.32,44.23 L617.82,44.29 L618.31,44.35 L618.81,44.41 L619.31,44.47 L619.80,44.53 L620.30,44.59 L620.80,44.65 L621.29,44.71 L621.79,44.77 L622.28,44.83 L622.78,44.89 L623.28,44.95 L623.77,45.01 L624.27,45.08 L624.77,45.14 L625.26,45.20 L625.76,45.26 L626.25,45.32 L626.75,45.38 L627.25,45.44 L627.74,45.51 L628.24,45.57 L628.74,45.63 L629.23,45.69 L629.73,45.76 L630.22,45.82 L630.72,45.88 L631.22,45.94 L631.71,46.01 L632.21,46.07 L632.70,46.13 L633.20,46.20 L633.70,46.26 L634.19,46.33 L634.69,46.39 L635.18,46.45 L635.68,46.52 L636.17,46.58 L636.67,46.65 L637.17,46.71 L637.66,46.78 L638.16,46.85 L638.65,46.91 L639.15,46.98 L639.64,47.05 L640.14,47.11 L640.63,47.18 L641.13,47.25 L641.62,47.31 L642.11,47.38 L642.61,47.45 L643.10,47.52 L643.59,47.59 L644.08,47.66 L644.57,47.73 L645.06,47.80 L645.55,47.87 L646.04,47.94 L646.54,48.01 L647.03,48.07 L647.53,48.14 L648.03,48.21 L648.52,48.28 L649.02,48.35 L649.51,48.43 L650.01,48.50 L650.51,48.57 L651.00,48.64 L651.50,48.72 L651.99,48.79 L652.49,48.87 L652.98,48.94 L653.48,49.02 L653.97,49.10 L654.46,49.18 L654.95,49.26 L655.44,49.34 L655.92,49.42 L656.32,49.49" stroke="#00ff00"/>
</g>
<g class="tl">
<text transform="translate(389.50,287.70) scale(0.77,1)" text-anchor="end">0</text>
<text transform="translate(389.50,257.13) scale(0.77,1)" text-anchor="end">1</text>
<text transform="translate(389.50,226.57) scale(0.77,1)" text-anchor="end">2</text>
<text transform="translate(389.50,196.00) scale(0.77,1)" text-anchor="end">3</text>
<text transform="translate(389.50,165.43) scale(0.77,1)" text-anchor="end">4</text>
<text transform="translate(389.50,134.87) scale(0.77,1)" text-anchor="end">5</text>
<text transform="translate(389.50,104.30) scale(0.77,1)" text-anchor="end">6</text>
<text transform="translate(389.50,73.73) scale(0.77,1)" text-anchor="end">7</text>
<text transform="translate(389.50,43.17) scale(0.77,1)" text-anchor="end">8</text>
<text transform="translate(389.50,12.60) scale(0.77,1)" text-anchor="end">9</text>
<text transform="translate(392.20,296.50) scale(0.77,1)" text-anchor="middle">0</text>
<text transform="translate(480.47,296.50) scale(0.77,1)" text-anchor="middle">5</text>
<text transform="translate(568.73,296.50) scale(0.77,1)" text-anchor="middle">10</text>
<text transform="translate(657.00,296.50) scale(0.77,1)" text-anchor="middle">15</text>
</g>
<rect x="610.6" y="14.0" width="40.0" height="68.6" fill="#fff" stroke="#888888" stroke-width="1.4"/>
<path d="M615.10,22.30h24" stroke="#ff00ff" stroke-width="2"/>
<text class="lg" transform="translate(641.00,26.20) scale(0.85,1)">S</text>
<path d="M615.10,35.33h24" stroke="#000000" stroke-width="2"/>
<text class="lg" transform="translate(641.00,39.23) scale(0.85,1)">E</text>
<path d="M615.10,48.36h24" stroke="#ff0000" stroke-width="2"/>
<text class="lg" transform="translate(641.00,52.26) scale(0.85,1)">I</text>
<path d="M615.10,61.39h24" stroke="#0000ff" stroke-width="2"/>
<text class="lg" transform="translate(641.00,65.29) scale(0.85,1)">D</text>
<path d="M615.10,74.42h24" stroke="#00ff00" stroke-width="2"/>
<text class="lg" transform="translate(641.00,78.32) scale(0.85,1)">H</text>
<text class="lab" x="178.4" y="310.2" text-anchor="middle">months</text>
<text class="lab" x="529" y="312" text-anchor="middle">months</text>
<text class="lab" transform="translate(16.6,138.4) rotate(-90)" text-anchor="middle">million</text>
<text class="lab" transform="translate(367.4,138.4) rotate(-90)" text-anchor="middle">million</text>
<text class="cap" transform="translate(156.5,337.6) scale(1.12,1)" text-anchor="middle">(<tspan class="l" dx="0.7">a</tspan><tspan dx="0.7">)</tspan></text>
<text class="cap" transform="translate(531.3,337.6) scale(1.12,1)" text-anchor="middle">(<tspan class="l" dx="0.7">b</tspan><tspan dx="0.7">)</tspan></text>
</svg>
</body></html>
